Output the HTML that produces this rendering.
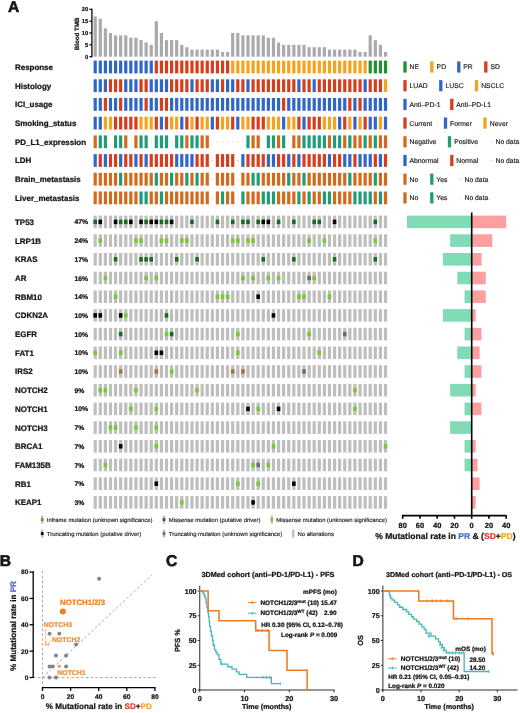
<!DOCTYPE html>
<html lang="en"><head><meta charset="utf-8"><title>Figure</title>
<style>html,body{margin:0;padding:0;background:#fff}body{width:520px;height:713px;overflow:hidden}svg{display:block}text{font-family:"Liberation Sans", Arial, Helvetica, sans-serif;fill:#141414;stroke:#141414;stroke-width:0.13px;text-rendering:geometricPrecision}.b{font-weight:bold;stroke-width:0.24px}.pl{stroke-width:0.6px}</style>
</head><body>
<svg width="520" height="713" viewBox="0 0 520 713">
<rect width="520" height="713" fill="#ffffff"/>
<text x="8.0" y="11.9" font-size="15.6" class="b pl">A</text>
<g fill="#aaaaad">
<rect x="93.6" y="16.41" width="3.2" height="40.29"/>
<rect x="98.69" y="18.78" width="3.2" height="37.92"/>
<rect x="103.79" y="28.26" width="3.2" height="28.44"/>
<rect x="108.88" y="33" width="3.2" height="23.7"/>
<rect x="113.97" y="35.37" width="3.2" height="21.33"/>
<rect x="119.06" y="35.37" width="3.2" height="21.33"/>
<rect x="124.16" y="35.37" width="3.2" height="21.33"/>
<rect x="129.25" y="37.74" width="3.2" height="18.96"/>
<rect x="134.34" y="37.74" width="3.2" height="18.96"/>
<rect x="139.44" y="40.11" width="3.2" height="16.59"/>
<rect x="144.53" y="42.48" width="3.2" height="14.22"/>
<rect x="149.62" y="44.85" width="3.2" height="11.85"/>
<rect x="154.72" y="21.15" width="3.2" height="35.55"/>
<rect x="159.81" y="33" width="3.2" height="23.7"/>
<rect x="164.9" y="40.11" width="3.2" height="16.59"/>
<rect x="170" y="40.11" width="3.2" height="16.59"/>
<rect x="175.09" y="40.11" width="3.2" height="16.59"/>
<rect x="180.18" y="44.85" width="3.2" height="11.85"/>
<rect x="185.27" y="47.22" width="3.2" height="9.48"/>
<rect x="190.37" y="49.59" width="3.2" height="7.11"/>
<rect x="195.46" y="49.59" width="3.2" height="7.11"/>
<rect x="200.55" y="49.59" width="3.2" height="7.11"/>
<rect x="205.65" y="49.59" width="3.2" height="7.11"/>
<rect x="210.74" y="49.59" width="3.2" height="7.11"/>
<rect x="215.83" y="49.59" width="3.2" height="7.11"/>
<rect x="220.93" y="51.96" width="3.2" height="4.74"/>
<rect x="226.02" y="51.96" width="3.2" height="4.74"/>
<rect x="231.11" y="33" width="3.2" height="23.7"/>
<rect x="236.2" y="33" width="3.2" height="23.7"/>
<rect x="241.3" y="35.37" width="3.2" height="21.33"/>
<rect x="246.39" y="35.37" width="3.2" height="21.33"/>
<rect x="251.48" y="35.37" width="3.2" height="21.33"/>
<rect x="256.58" y="35.37" width="3.2" height="21.33"/>
<rect x="261.67" y="35.37" width="3.2" height="21.33"/>
<rect x="266.76" y="37.74" width="3.2" height="18.96"/>
<rect x="271.86" y="37.74" width="3.2" height="18.96"/>
<rect x="276.95" y="42.48" width="3.2" height="14.22"/>
<rect x="282.04" y="44.85" width="3.2" height="11.85"/>
<rect x="287.13" y="44.85" width="3.2" height="11.85"/>
<rect x="292.23" y="44.85" width="3.2" height="11.85"/>
<rect x="297.32" y="44.85" width="3.2" height="11.85"/>
<rect x="302.41" y="44.85" width="3.2" height="11.85"/>
<rect x="307.51" y="47.22" width="3.2" height="9.48"/>
<rect x="312.6" y="47.22" width="3.2" height="9.48"/>
<rect x="317.69" y="47.22" width="3.2" height="9.48"/>
<rect x="322.78" y="47.22" width="3.2" height="9.48"/>
<rect x="327.88" y="49.59" width="3.2" height="7.11"/>
<rect x="332.97" y="49.59" width="3.2" height="7.11"/>
<rect x="338.06" y="49.59" width="3.2" height="7.11"/>
<rect x="343.16" y="49.59" width="3.2" height="7.11"/>
<rect x="348.25" y="49.59" width="3.2" height="7.11"/>
<rect x="353.34" y="49.59" width="3.2" height="7.11"/>
<rect x="358.44" y="51.96" width="3.2" height="4.74"/>
<rect x="363.53" y="51.96" width="3.2" height="4.74"/>
<rect x="368.62" y="35.37" width="3.2" height="21.33"/>
<rect x="373.72" y="40.11" width="3.2" height="16.59"/>
<rect x="378.81" y="44.85" width="3.2" height="11.85"/>
<rect x="383.9" y="51.96" width="3.2" height="4.74"/>
</g>
<g stroke="#111" stroke-width="1.35" fill="none">
<path d="M91.9 8.7V57.3"/>
<path d="M89.4 56.7 H91.9"/>
<path d="M89.4 44.85 H91.9"/>
<path d="M89.4 33 H91.9"/>
<path d="M89.4 21.15 H91.9"/>
<path d="M89.4 9.3 H91.9"/>
</g>
<text x="88.3" y="58.7" font-size="5.8" class="b" text-anchor="end">0</text>
<text x="88.3" y="46.85" font-size="5.8" class="b" text-anchor="end">5</text>
<text x="88.3" y="35" font-size="5.8" class="b" text-anchor="end">10</text>
<text x="88.3" y="23.15" font-size="5.8" class="b" text-anchor="end">15</text>
<text x="88.3" y="11.3" font-size="5.8" class="b" text-anchor="end">20</text>
<text transform="translate(79.1 33.8) rotate(-90)" font-size="6.2" class="b" text-anchor="middle">Blood TMB</text>
<text x="15" y="69.9" font-size="7.95" class="b">Response</text>
<g>
<rect x="93.6" y="60.6" width="3.2" height="12.8" fill="#2f66c7"/>
<rect x="98.69" y="60.6" width="3.2" height="12.8" fill="#2f66c7"/>
<rect x="103.79" y="60.6" width="3.2" height="12.8" fill="#2f66c7"/>
<rect x="108.88" y="60.6" width="3.2" height="12.8" fill="#2f66c7"/>
<rect x="113.97" y="60.6" width="3.2" height="12.8" fill="#2f66c7"/>
<rect x="119.06" y="60.6" width="3.2" height="12.8" fill="#2f66c7"/>
<rect x="124.16" y="60.6" width="3.2" height="12.8" fill="#2f66c7"/>
<rect x="129.25" y="60.6" width="3.2" height="12.8" fill="#2f66c7"/>
<rect x="134.34" y="60.6" width="3.2" height="12.8" fill="#2f66c7"/>
<rect x="139.44" y="60.6" width="3.2" height="12.8" fill="#2f66c7"/>
<rect x="144.53" y="60.6" width="3.2" height="12.8" fill="#2f66c7"/>
<rect x="149.62" y="60.6" width="3.2" height="12.8" fill="#2f66c7"/>
<rect x="154.72" y="60.6" width="3.2" height="12.8" fill="#d63d1c"/>
<rect x="159.81" y="60.6" width="3.2" height="12.8" fill="#d63d1c"/>
<rect x="164.9" y="60.6" width="3.2" height="12.8" fill="#d63d1c"/>
<rect x="170" y="60.6" width="3.2" height="12.8" fill="#d63d1c"/>
<rect x="175.09" y="60.6" width="3.2" height="12.8" fill="#d63d1c"/>
<rect x="180.18" y="60.6" width="3.2" height="12.8" fill="#d63d1c"/>
<rect x="185.27" y="60.6" width="3.2" height="12.8" fill="#d63d1c"/>
<rect x="190.37" y="60.6" width="3.2" height="12.8" fill="#d63d1c"/>
<rect x="195.46" y="60.6" width="3.2" height="12.8" fill="#d63d1c"/>
<rect x="200.55" y="60.6" width="3.2" height="12.8" fill="#d63d1c"/>
<rect x="205.65" y="60.6" width="3.2" height="12.8" fill="#d63d1c"/>
<rect x="210.74" y="60.6" width="3.2" height="12.8" fill="#d63d1c"/>
<rect x="215.83" y="60.6" width="3.2" height="12.8" fill="#d63d1c"/>
<rect x="220.93" y="60.6" width="3.2" height="12.8" fill="#d63d1c"/>
<rect x="226.02" y="60.6" width="3.2" height="12.8" fill="#d63d1c"/>
<rect x="231.11" y="60.6" width="3.2" height="12.8" fill="#f5a31f"/>
<rect x="236.2" y="60.6" width="3.2" height="12.8" fill="#f5a31f"/>
<rect x="241.3" y="60.6" width="3.2" height="12.8" fill="#f5a31f"/>
<rect x="246.39" y="60.6" width="3.2" height="12.8" fill="#f5a31f"/>
<rect x="251.48" y="60.6" width="3.2" height="12.8" fill="#f5a31f"/>
<rect x="256.58" y="60.6" width="3.2" height="12.8" fill="#f5a31f"/>
<rect x="261.67" y="60.6" width="3.2" height="12.8" fill="#f5a31f"/>
<rect x="266.76" y="60.6" width="3.2" height="12.8" fill="#f5a31f"/>
<rect x="271.86" y="60.6" width="3.2" height="12.8" fill="#f5a31f"/>
<rect x="276.95" y="60.6" width="3.2" height="12.8" fill="#f5a31f"/>
<rect x="282.04" y="60.6" width="3.2" height="12.8" fill="#f5a31f"/>
<rect x="287.13" y="60.6" width="3.2" height="12.8" fill="#f5a31f"/>
<rect x="292.23" y="60.6" width="3.2" height="12.8" fill="#f5a31f"/>
<rect x="297.32" y="60.6" width="3.2" height="12.8" fill="#f5a31f"/>
<rect x="302.41" y="60.6" width="3.2" height="12.8" fill="#f5a31f"/>
<rect x="307.51" y="60.6" width="3.2" height="12.8" fill="#f5a31f"/>
<rect x="312.6" y="60.6" width="3.2" height="12.8" fill="#f5a31f"/>
<rect x="317.69" y="60.6" width="3.2" height="12.8" fill="#f5a31f"/>
<rect x="322.78" y="60.6" width="3.2" height="12.8" fill="#f5a31f"/>
<rect x="327.88" y="60.6" width="3.2" height="12.8" fill="#f5a31f"/>
<rect x="332.97" y="60.6" width="3.2" height="12.8" fill="#f5a31f"/>
<rect x="338.06" y="60.6" width="3.2" height="12.8" fill="#f5a31f"/>
<rect x="343.16" y="60.6" width="3.2" height="12.8" fill="#f5a31f"/>
<rect x="348.25" y="60.6" width="3.2" height="12.8" fill="#f5a31f"/>
<rect x="353.34" y="60.6" width="3.2" height="12.8" fill="#f5a31f"/>
<rect x="358.44" y="60.6" width="3.2" height="12.8" fill="#f5a31f"/>
<rect x="363.53" y="60.6" width="3.2" height="12.8" fill="#f5a31f"/>
<rect x="368.62" y="60.6" width="3.2" height="12.8" fill="#1f9130"/>
<rect x="373.72" y="60.6" width="3.2" height="12.8" fill="#1f9130"/>
<rect x="378.81" y="60.6" width="3.2" height="12.8" fill="#1f9130"/>
<rect x="383.9" y="60.6" width="3.2" height="12.8" fill="#1f9130"/>
</g>
<text x="15" y="88.6" font-size="7.95" class="b">Histology</text>
<g>
<rect x="93.6" y="79.3" width="3.2" height="12.8" fill="#2f66c7"/>
<rect x="98.69" y="79.3" width="3.2" height="12.8" fill="#2f66c7"/>
<rect x="103.79" y="79.3" width="3.2" height="12.8" fill="#2f66c7"/>
<rect x="108.88" y="79.3" width="3.2" height="12.8" fill="#d63d1c"/>
<rect x="113.97" y="79.3" width="3.2" height="12.8" fill="#d63d1c"/>
<rect x="119.06" y="79.3" width="3.2" height="12.8" fill="#d63d1c"/>
<rect x="124.16" y="79.3" width="3.2" height="12.8" fill="#2f66c7"/>
<rect x="129.25" y="79.3" width="3.2" height="12.8" fill="#2f66c7"/>
<rect x="134.34" y="79.3" width="3.2" height="12.8" fill="#2f66c7"/>
<rect x="139.44" y="79.3" width="3.2" height="12.8" fill="#d63d1c"/>
<rect x="144.53" y="79.3" width="3.2" height="12.8" fill="#d63d1c"/>
<rect x="149.62" y="79.3" width="3.2" height="12.8" fill="#2f66c7"/>
<rect x="154.72" y="79.3" width="3.2" height="12.8" fill="#2f66c7"/>
<rect x="159.81" y="79.3" width="3.2" height="12.8" fill="#2f66c7"/>
<rect x="164.9" y="79.3" width="3.2" height="12.8" fill="#2f66c7"/>
<rect x="170" y="79.3" width="3.2" height="12.8" fill="#d63d1c"/>
<rect x="175.09" y="79.3" width="3.2" height="12.8" fill="#d63d1c"/>
<rect x="180.18" y="79.3" width="3.2" height="12.8" fill="#d63d1c"/>
<rect x="185.27" y="79.3" width="3.2" height="12.8" fill="#d63d1c"/>
<rect x="190.37" y="79.3" width="3.2" height="12.8" fill="#2f66c7"/>
<rect x="195.46" y="79.3" width="3.2" height="12.8" fill="#d63d1c"/>
<rect x="200.55" y="79.3" width="3.2" height="12.8" fill="#d63d1c"/>
<rect x="205.65" y="79.3" width="3.2" height="12.8" fill="#d63d1c"/>
<rect x="210.74" y="79.3" width="3.2" height="12.8" fill="#2f66c7"/>
<rect x="215.83" y="79.3" width="3.2" height="12.8" fill="#2f66c7"/>
<rect x="220.93" y="79.3" width="3.2" height="12.8" fill="#d63d1c"/>
<rect x="226.02" y="79.3" width="3.2" height="12.8" fill="#2f66c7"/>
<rect x="231.11" y="79.3" width="3.2" height="12.8" fill="#2f66c7"/>
<rect x="236.2" y="79.3" width="3.2" height="12.8" fill="#d63d1c"/>
<rect x="241.3" y="79.3" width="3.2" height="12.8" fill="#d63d1c"/>
<rect x="246.39" y="79.3" width="3.2" height="12.8" fill="#2f66c7"/>
<rect x="251.48" y="79.3" width="3.2" height="12.8" fill="#d63d1c"/>
<rect x="256.58" y="79.3" width="3.2" height="12.8" fill="#d63d1c"/>
<rect x="261.67" y="79.3" width="3.2" height="12.8" fill="#d63d1c"/>
<rect x="266.76" y="79.3" width="3.2" height="12.8" fill="#d63d1c"/>
<rect x="271.86" y="79.3" width="3.2" height="12.8" fill="#d63d1c"/>
<rect x="276.95" y="79.3" width="3.2" height="12.8" fill="#d63d1c"/>
<rect x="282.04" y="79.3" width="3.2" height="12.8" fill="#d63d1c"/>
<rect x="287.13" y="79.3" width="3.2" height="12.8" fill="#d63d1c"/>
<rect x="292.23" y="79.3" width="3.2" height="12.8" fill="#d63d1c"/>
<rect x="297.32" y="79.3" width="3.2" height="12.8" fill="#2f66c7"/>
<rect x="302.41" y="79.3" width="3.2" height="12.8" fill="#d63d1c"/>
<rect x="307.51" y="79.3" width="3.2" height="12.8" fill="#d63d1c"/>
<rect x="312.6" y="79.3" width="3.2" height="12.8" fill="#2f66c7"/>
<rect x="317.69" y="79.3" width="3.2" height="12.8" fill="#d63d1c"/>
<rect x="322.78" y="79.3" width="3.2" height="12.8" fill="#d63d1c"/>
<rect x="327.88" y="79.3" width="3.2" height="12.8" fill="#d63d1c"/>
<rect x="332.97" y="79.3" width="3.2" height="12.8" fill="#d63d1c"/>
<rect x="338.06" y="79.3" width="3.2" height="12.8" fill="#d63d1c"/>
<rect x="343.16" y="79.3" width="3.2" height="12.8" fill="#d63d1c"/>
<rect x="348.25" y="79.3" width="3.2" height="12.8" fill="#d63d1c"/>
<rect x="353.34" y="79.3" width="3.2" height="12.8" fill="#d63d1c"/>
<rect x="358.44" y="79.3" width="3.2" height="12.8" fill="#d63d1c"/>
<rect x="363.53" y="79.3" width="3.2" height="12.8" fill="#2f66c7"/>
<rect x="368.62" y="79.3" width="3.2" height="12.8" fill="#d63d1c"/>
<rect x="373.72" y="79.3" width="3.2" height="12.8" fill="#d63d1c"/>
<rect x="378.81" y="79.3" width="3.2" height="12.8" fill="#d63d1c"/>
<rect x="383.9" y="79.3" width="3.2" height="12.8" fill="#f5a31f"/>
</g>
<text x="15" y="107.3" font-size="7.95" class="b">ICI_usage</text>
<g>
<rect x="93.6" y="98" width="3.2" height="12.8" fill="#2f66c7"/>
<rect x="98.69" y="98" width="3.2" height="12.8" fill="#2f66c7"/>
<rect x="103.79" y="98" width="3.2" height="12.8" fill="#d63d1c"/>
<rect x="108.88" y="98" width="3.2" height="12.8" fill="#2f66c7"/>
<rect x="113.97" y="98" width="3.2" height="12.8" fill="#2f66c7"/>
<rect x="119.06" y="98" width="3.2" height="12.8" fill="#d63d1c"/>
<rect x="124.16" y="98" width="3.2" height="12.8" fill="#2f66c7"/>
<rect x="129.25" y="98" width="3.2" height="12.8" fill="#2f66c7"/>
<rect x="134.34" y="98" width="3.2" height="12.8" fill="#2f66c7"/>
<rect x="139.44" y="98" width="3.2" height="12.8" fill="#2f66c7"/>
<rect x="144.53" y="98" width="3.2" height="12.8" fill="#d63d1c"/>
<rect x="149.62" y="98" width="3.2" height="12.8" fill="#2f66c7"/>
<rect x="154.72" y="98" width="3.2" height="12.8" fill="#2f66c7"/>
<rect x="159.81" y="98" width="3.2" height="12.8" fill="#d63d1c"/>
<rect x="164.9" y="98" width="3.2" height="12.8" fill="#d63d1c"/>
<rect x="170" y="98" width="3.2" height="12.8" fill="#2f66c7"/>
<rect x="175.09" y="98" width="3.2" height="12.8" fill="#2f66c7"/>
<rect x="180.18" y="98" width="3.2" height="12.8" fill="#2f66c7"/>
<rect x="185.27" y="98" width="3.2" height="12.8" fill="#2f66c7"/>
<rect x="190.37" y="98" width="3.2" height="12.8" fill="#2f66c7"/>
<rect x="195.46" y="98" width="3.2" height="12.8" fill="#2f66c7"/>
<rect x="200.55" y="98" width="3.2" height="12.8" fill="#2f66c7"/>
<rect x="205.65" y="98" width="3.2" height="12.8" fill="#2f66c7"/>
<rect x="210.74" y="98" width="3.2" height="12.8" fill="#2f66c7"/>
<rect x="215.83" y="98" width="3.2" height="12.8" fill="#2f66c7"/>
<rect x="220.93" y="98" width="3.2" height="12.8" fill="#2f66c7"/>
<rect x="226.02" y="98" width="3.2" height="12.8" fill="#2f66c7"/>
<rect x="231.11" y="98" width="3.2" height="12.8" fill="#2f66c7"/>
<rect x="236.2" y="98" width="3.2" height="12.8" fill="#2f66c7"/>
<rect x="241.3" y="98" width="3.2" height="12.8" fill="#2f66c7"/>
<rect x="246.39" y="98" width="3.2" height="12.8" fill="#2f66c7"/>
<rect x="251.48" y="98" width="3.2" height="12.8" fill="#2f66c7"/>
<rect x="256.58" y="98" width="3.2" height="12.8" fill="#2f66c7"/>
<rect x="261.67" y="98" width="3.2" height="12.8" fill="#2f66c7"/>
<rect x="266.76" y="98" width="3.2" height="12.8" fill="#2f66c7"/>
<rect x="271.86" y="98" width="3.2" height="12.8" fill="#2f66c7"/>
<rect x="276.95" y="98" width="3.2" height="12.8" fill="#2f66c7"/>
<rect x="282.04" y="98" width="3.2" height="12.8" fill="#d63d1c"/>
<rect x="287.13" y="98" width="3.2" height="12.8" fill="#2f66c7"/>
<rect x="292.23" y="98" width="3.2" height="12.8" fill="#2f66c7"/>
<rect x="297.32" y="98" width="3.2" height="12.8" fill="#2f66c7"/>
<rect x="302.41" y="98" width="3.2" height="12.8" fill="#2f66c7"/>
<rect x="307.51" y="98" width="3.2" height="12.8" fill="#2f66c7"/>
<rect x="312.6" y="98" width="3.2" height="12.8" fill="#2f66c7"/>
<rect x="317.69" y="98" width="3.2" height="12.8" fill="#2f66c7"/>
<rect x="322.78" y="98" width="3.2" height="12.8" fill="#2f66c7"/>
<rect x="327.88" y="98" width="3.2" height="12.8" fill="#2f66c7"/>
<rect x="332.97" y="98" width="3.2" height="12.8" fill="#2f66c7"/>
<rect x="338.06" y="98" width="3.2" height="12.8" fill="#2f66c7"/>
<rect x="343.16" y="98" width="3.2" height="12.8" fill="#2f66c7"/>
<rect x="348.25" y="98" width="3.2" height="12.8" fill="#d63d1c"/>
<rect x="353.34" y="98" width="3.2" height="12.8" fill="#2f66c7"/>
<rect x="358.44" y="98" width="3.2" height="12.8" fill="#d63d1c"/>
<rect x="363.53" y="98" width="3.2" height="12.8" fill="#2f66c7"/>
<rect x="368.62" y="98" width="3.2" height="12.8" fill="#2f66c7"/>
<rect x="373.72" y="98" width="3.2" height="12.8" fill="#2f66c7"/>
<rect x="378.81" y="98" width="3.2" height="12.8" fill="#2f66c7"/>
<rect x="383.9" y="98" width="3.2" height="12.8" fill="#2f66c7"/>
</g>
<text x="15" y="126" font-size="7.95" class="b">Smoking_status</text>
<g>
<rect x="93.6" y="116.7" width="3.2" height="12.8" fill="#2f66c7"/>
<rect x="98.69" y="116.7" width="3.2" height="12.8" fill="#2f66c7"/>
<rect x="103.79" y="116.7" width="3.2" height="12.8" fill="#f5a31f"/>
<rect x="108.88" y="116.7" width="3.2" height="12.8" fill="#f5a31f"/>
<rect x="113.97" y="116.7" width="3.2" height="12.8" fill="#d63d1c"/>
<rect x="119.06" y="116.7" width="3.2" height="12.8" fill="#d63d1c"/>
<rect x="124.16" y="116.7" width="3.2" height="12.8" fill="#d63d1c"/>
<rect x="129.25" y="116.7" width="3.2" height="12.8" fill="#d63d1c"/>
<rect x="134.34" y="116.7" width="3.2" height="12.8" fill="#d63d1c"/>
<rect x="139.44" y="116.7" width="3.2" height="12.8" fill="#f5a31f"/>
<rect x="144.53" y="116.7" width="3.2" height="12.8" fill="#f5a31f"/>
<rect x="149.62" y="116.7" width="3.2" height="12.8" fill="#f5a31f"/>
<rect x="154.72" y="116.7" width="3.2" height="12.8" fill="#d63d1c"/>
<rect x="159.81" y="116.7" width="3.2" height="12.8" fill="#2f66c7"/>
<rect x="164.9" y="116.7" width="3.2" height="12.8" fill="#d63d1c"/>
<rect x="170" y="116.7" width="3.2" height="12.8" fill="#f5a31f"/>
<rect x="175.09" y="116.7" width="3.2" height="12.8" fill="#f5a31f"/>
<rect x="180.18" y="116.7" width="3.2" height="12.8" fill="#2f66c7"/>
<rect x="185.27" y="116.7" width="3.2" height="12.8" fill="#d63d1c"/>
<rect x="190.37" y="116.7" width="3.2" height="12.8" fill="#f5a31f"/>
<rect x="195.46" y="116.7" width="3.2" height="12.8" fill="#d63d1c"/>
<rect x="200.55" y="116.7" width="3.2" height="12.8" fill="#f5a31f"/>
<rect x="205.65" y="116.7" width="3.2" height="12.8" fill="#f5a31f"/>
<rect x="210.74" y="116.7" width="3.2" height="12.8" fill="#2f66c7"/>
<rect x="215.83" y="116.7" width="3.2" height="12.8" fill="#d63d1c"/>
<rect x="220.93" y="116.7" width="3.2" height="12.8" fill="#f5a31f"/>
<rect x="226.02" y="116.7" width="3.2" height="12.8" fill="#f5a31f"/>
<rect x="231.11" y="116.7" width="3.2" height="12.8" fill="#d63d1c"/>
<rect x="236.2" y="116.7" width="3.2" height="12.8" fill="#2f66c7"/>
<rect x="241.3" y="116.7" width="3.2" height="12.8" fill="#f5a31f"/>
<rect x="246.39" y="116.7" width="3.2" height="12.8" fill="#f5a31f"/>
<rect x="251.48" y="116.7" width="3.2" height="12.8" fill="#d63d1c"/>
<rect x="256.58" y="116.7" width="3.2" height="12.8" fill="#d63d1c"/>
<rect x="261.67" y="116.7" width="3.2" height="12.8" fill="#d63d1c"/>
<rect x="266.76" y="116.7" width="3.2" height="12.8" fill="#f5a31f"/>
<rect x="271.86" y="116.7" width="3.2" height="12.8" fill="#f5a31f"/>
<rect x="276.95" y="116.7" width="3.2" height="12.8" fill="#f5a31f"/>
<rect x="282.04" y="116.7" width="3.2" height="12.8" fill="#2f66c7"/>
<rect x="287.13" y="116.7" width="3.2" height="12.8" fill="#f5a31f"/>
<rect x="292.23" y="116.7" width="3.2" height="12.8" fill="#f5a31f"/>
<rect x="297.32" y="116.7" width="3.2" height="12.8" fill="#d63d1c"/>
<rect x="302.41" y="116.7" width="3.2" height="12.8" fill="#2f66c7"/>
<rect x="307.51" y="116.7" width="3.2" height="12.8" fill="#d63d1c"/>
<rect x="312.6" y="116.7" width="3.2" height="12.8" fill="#d63d1c"/>
<rect x="317.69" y="116.7" width="3.2" height="12.8" fill="#d63d1c"/>
<rect x="322.78" y="116.7" width="3.2" height="12.8" fill="#f5a31f"/>
<rect x="327.88" y="116.7" width="3.2" height="12.8" fill="#f5a31f"/>
<rect x="332.97" y="116.7" width="3.2" height="12.8" fill="#f5a31f"/>
<rect x="338.06" y="116.7" width="3.2" height="12.8" fill="#2f66c7"/>
<rect x="343.16" y="116.7" width="3.2" height="12.8" fill="#d63d1c"/>
<rect x="348.25" y="116.7" width="3.2" height="12.8" fill="#f5a31f"/>
<rect x="353.34" y="116.7" width="3.2" height="12.8" fill="#2f66c7"/>
<rect x="358.44" y="116.7" width="3.2" height="12.8" fill="#f5a31f"/>
<rect x="363.53" y="116.7" width="3.2" height="12.8" fill="#d63d1c"/>
<rect x="368.62" y="116.7" width="3.2" height="12.8" fill="#2f66c7"/>
<rect x="373.72" y="116.7" width="3.2" height="12.8" fill="#2f66c7"/>
<rect x="378.81" y="116.7" width="3.2" height="12.8" fill="#f5a31f"/>
<rect x="383.9" y="116.7" width="3.2" height="12.8" fill="#2f66c7"/>
</g>
<text x="15" y="144.7" font-size="7.95" class="b">PD_L1_expression</text>
<g>
<rect x="93.6" y="135.4" width="3.2" height="12.8" fill="#d4691c"/>
<rect x="98.69" y="135.4" width="3.2" height="12.8" fill="#1f9c78"/>
<rect x="103.79" y="135.4" width="3.2" height="12.8" fill="#1f9c78"/>
<rect x="109.38" y="141.35" width="2.2" height="0.9" fill="#d8d8d8"/>
<rect x="113.97" y="135.4" width="3.2" height="12.8" fill="#1f9c78"/>
<rect x="119.06" y="135.4" width="3.2" height="12.8" fill="#1f9c78"/>
<rect x="124.16" y="135.4" width="3.2" height="12.8" fill="#d4691c"/>
<rect x="129.75" y="141.35" width="2.2" height="0.9" fill="#d8d8d8"/>
<rect x="134.34" y="135.4" width="3.2" height="12.8" fill="#d4691c"/>
<rect x="139.44" y="135.4" width="3.2" height="12.8" fill="#1f9c78"/>
<rect x="144.53" y="135.4" width="3.2" height="12.8" fill="#1f9c78"/>
<rect x="150.12" y="141.35" width="2.2" height="0.9" fill="#d8d8d8"/>
<rect x="154.72" y="135.4" width="3.2" height="12.8" fill="#1f9c78"/>
<rect x="159.81" y="135.4" width="3.2" height="12.8" fill="#1f9c78"/>
<rect x="164.9" y="135.4" width="3.2" height="12.8" fill="#1f9c78"/>
<rect x="170.5" y="141.35" width="2.2" height="0.9" fill="#d8d8d8"/>
<rect x="175.09" y="135.4" width="3.2" height="12.8" fill="#1f9c78"/>
<rect x="180.18" y="135.4" width="3.2" height="12.8" fill="#1f9c78"/>
<rect x="185.27" y="135.4" width="3.2" height="12.8" fill="#d4691c"/>
<rect x="190.37" y="135.4" width="3.2" height="12.8" fill="#1f9c78"/>
<rect x="195.46" y="135.4" width="3.2" height="12.8" fill="#1f9c78"/>
<rect x="200.55" y="135.4" width="3.2" height="12.8" fill="#d4691c"/>
<rect x="205.65" y="135.4" width="3.2" height="12.8" fill="#d4691c"/>
<rect x="211.24" y="141.35" width="2.2" height="0.9" fill="#d8d8d8"/>
<rect x="216.33" y="141.35" width="2.2" height="0.9" fill="#d8d8d8"/>
<rect x="221.43" y="141.35" width="2.2" height="0.9" fill="#d8d8d8"/>
<rect x="226.52" y="141.35" width="2.2" height="0.9" fill="#d8d8d8"/>
<rect x="231.61" y="141.35" width="2.2" height="0.9" fill="#d8d8d8"/>
<rect x="236.7" y="141.35" width="2.2" height="0.9" fill="#d8d8d8"/>
<rect x="241.8" y="141.35" width="2.2" height="0.9" fill="#d8d8d8"/>
<rect x="246.39" y="135.4" width="3.2" height="12.8" fill="#1f9c78"/>
<rect x="251.48" y="135.4" width="3.2" height="12.8" fill="#d4691c"/>
<rect x="256.58" y="135.4" width="3.2" height="12.8" fill="#d4691c"/>
<rect x="262.17" y="141.35" width="2.2" height="0.9" fill="#d8d8d8"/>
<rect x="266.76" y="135.4" width="3.2" height="12.8" fill="#1f9c78"/>
<rect x="271.86" y="135.4" width="3.2" height="12.8" fill="#1f9c78"/>
<rect x="276.95" y="135.4" width="3.2" height="12.8" fill="#d4691c"/>
<rect x="282.04" y="135.4" width="3.2" height="12.8" fill="#1f9c78"/>
<rect x="287.63" y="141.35" width="2.2" height="0.9" fill="#d8d8d8"/>
<rect x="292.23" y="135.4" width="3.2" height="12.8" fill="#d4691c"/>
<rect x="297.32" y="135.4" width="3.2" height="12.8" fill="#d4691c"/>
<rect x="302.41" y="135.4" width="3.2" height="12.8" fill="#1f9c78"/>
<rect x="307.51" y="135.4" width="3.2" height="12.8" fill="#1f9c78"/>
<rect x="312.6" y="135.4" width="3.2" height="12.8" fill="#1f9c78"/>
<rect x="317.69" y="135.4" width="3.2" height="12.8" fill="#1f9c78"/>
<rect x="322.78" y="135.4" width="3.2" height="12.8" fill="#1f9c78"/>
<rect x="327.88" y="135.4" width="3.2" height="12.8" fill="#d4691c"/>
<rect x="332.97" y="135.4" width="3.2" height="12.8" fill="#1f9c78"/>
<rect x="338.06" y="135.4" width="3.2" height="12.8" fill="#1f9c78"/>
<rect x="343.16" y="135.4" width="3.2" height="12.8" fill="#d4691c"/>
<rect x="348.25" y="135.4" width="3.2" height="12.8" fill="#1f9c78"/>
<rect x="353.34" y="135.4" width="3.2" height="12.8" fill="#d4691c"/>
<rect x="358.44" y="135.4" width="3.2" height="12.8" fill="#d4691c"/>
<rect x="363.53" y="135.4" width="3.2" height="12.8" fill="#1f9c78"/>
<rect x="368.62" y="135.4" width="3.2" height="12.8" fill="#d4691c"/>
<rect x="373.72" y="135.4" width="3.2" height="12.8" fill="#1f9c78"/>
<rect x="378.81" y="135.4" width="3.2" height="12.8" fill="#d4691c"/>
<rect x="383.9" y="135.4" width="3.2" height="12.8" fill="#d4691c"/>
</g>
<text x="15" y="163.4" font-size="7.95" class="b">LDH</text>
<g>
<rect x="93.6" y="154.1" width="3.2" height="12.8" fill="#2f66c7"/>
<rect x="98.69" y="154.1" width="3.2" height="12.8" fill="#d63d1c"/>
<rect x="103.79" y="154.1" width="3.2" height="12.8" fill="#2f66c7"/>
<rect x="108.88" y="154.1" width="3.2" height="12.8" fill="#d63d1c"/>
<rect x="113.97" y="154.1" width="3.2" height="12.8" fill="#d63d1c"/>
<rect x="119.06" y="154.1" width="3.2" height="12.8" fill="#2f66c7"/>
<rect x="124.16" y="154.1" width="3.2" height="12.8" fill="#d63d1c"/>
<rect x="129.25" y="154.1" width="3.2" height="12.8" fill="#d63d1c"/>
<rect x="134.34" y="154.1" width="3.2" height="12.8" fill="#2f66c7"/>
<rect x="139.44" y="154.1" width="3.2" height="12.8" fill="#d63d1c"/>
<rect x="144.53" y="154.1" width="3.2" height="12.8" fill="#2f66c7"/>
<rect x="149.62" y="154.1" width="3.2" height="12.8" fill="#d63d1c"/>
<rect x="154.72" y="154.1" width="3.2" height="12.8" fill="#d63d1c"/>
<rect x="159.81" y="154.1" width="3.2" height="12.8" fill="#d63d1c"/>
<rect x="164.9" y="154.1" width="3.2" height="12.8" fill="#d63d1c"/>
<rect x="170" y="154.1" width="3.2" height="12.8" fill="#d63d1c"/>
<rect x="175.09" y="154.1" width="3.2" height="12.8" fill="#2f66c7"/>
<rect x="180.18" y="154.1" width="3.2" height="12.8" fill="#2f66c7"/>
<rect x="185.27" y="154.1" width="3.2" height="12.8" fill="#2f66c7"/>
<rect x="190.37" y="154.1" width="3.2" height="12.8" fill="#2f66c7"/>
<rect x="195.46" y="154.1" width="3.2" height="12.8" fill="#d63d1c"/>
<rect x="200.55" y="154.1" width="3.2" height="12.8" fill="#d63d1c"/>
<rect x="205.65" y="154.1" width="3.2" height="12.8" fill="#d63d1c"/>
<rect x="211.24" y="160.05" width="2.2" height="0.9" fill="#d8d8d8"/>
<rect x="215.83" y="154.1" width="3.2" height="12.8" fill="#d63d1c"/>
<rect x="220.93" y="154.1" width="3.2" height="12.8" fill="#d63d1c"/>
<rect x="226.02" y="154.1" width="3.2" height="12.8" fill="#d63d1c"/>
<rect x="231.11" y="154.1" width="3.2" height="12.8" fill="#d63d1c"/>
<rect x="236.7" y="160.05" width="2.2" height="0.9" fill="#d8d8d8"/>
<rect x="241.3" y="154.1" width="3.2" height="12.8" fill="#2f66c7"/>
<rect x="246.39" y="154.1" width="3.2" height="12.8" fill="#d63d1c"/>
<rect x="251.48" y="154.1" width="3.2" height="12.8" fill="#d63d1c"/>
<rect x="256.58" y="154.1" width="3.2" height="12.8" fill="#d63d1c"/>
<rect x="261.67" y="154.1" width="3.2" height="12.8" fill="#d63d1c"/>
<rect x="266.76" y="154.1" width="3.2" height="12.8" fill="#2f66c7"/>
<rect x="271.86" y="154.1" width="3.2" height="12.8" fill="#2f66c7"/>
<rect x="276.95" y="154.1" width="3.2" height="12.8" fill="#d63d1c"/>
<rect x="282.04" y="154.1" width="3.2" height="12.8" fill="#d63d1c"/>
<rect x="287.13" y="154.1" width="3.2" height="12.8" fill="#2f66c7"/>
<rect x="292.23" y="154.1" width="3.2" height="12.8" fill="#d63d1c"/>
<rect x="297.32" y="154.1" width="3.2" height="12.8" fill="#2f66c7"/>
<rect x="302.41" y="154.1" width="3.2" height="12.8" fill="#d63d1c"/>
<rect x="307.51" y="154.1" width="3.2" height="12.8" fill="#d63d1c"/>
<rect x="312.6" y="154.1" width="3.2" height="12.8" fill="#d63d1c"/>
<rect x="317.69" y="154.1" width="3.2" height="12.8" fill="#d63d1c"/>
<rect x="322.78" y="154.1" width="3.2" height="12.8" fill="#d63d1c"/>
<rect x="327.88" y="154.1" width="3.2" height="12.8" fill="#2f66c7"/>
<rect x="332.97" y="154.1" width="3.2" height="12.8" fill="#d63d1c"/>
<rect x="338.06" y="154.1" width="3.2" height="12.8" fill="#d63d1c"/>
<rect x="343.16" y="154.1" width="3.2" height="12.8" fill="#2f66c7"/>
<rect x="348.25" y="154.1" width="3.2" height="12.8" fill="#2f66c7"/>
<rect x="353.34" y="154.1" width="3.2" height="12.8" fill="#d63d1c"/>
<rect x="358.44" y="154.1" width="3.2" height="12.8" fill="#2f66c7"/>
<rect x="363.53" y="154.1" width="3.2" height="12.8" fill="#2f66c7"/>
<rect x="368.62" y="154.1" width="3.2" height="12.8" fill="#2f66c7"/>
<rect x="373.72" y="154.1" width="3.2" height="12.8" fill="#d63d1c"/>
<rect x="378.81" y="154.1" width="3.2" height="12.8" fill="#2f66c7"/>
<rect x="383.9" y="154.1" width="3.2" height="12.8" fill="#d63d1c"/>
</g>
<text x="15" y="182.1" font-size="7.95" class="b">Brain_metastasis</text>
<g>
<rect x="93.6" y="172.8" width="3.2" height="12.8" fill="#d4691c"/>
<rect x="98.69" y="172.8" width="3.2" height="12.8" fill="#d4691c"/>
<rect x="103.79" y="172.8" width="3.2" height="12.8" fill="#d4691c"/>
<rect x="108.88" y="172.8" width="3.2" height="12.8" fill="#d4691c"/>
<rect x="113.97" y="172.8" width="3.2" height="12.8" fill="#d4691c"/>
<rect x="119.06" y="172.8" width="3.2" height="12.8" fill="#1f9c78"/>
<rect x="124.16" y="172.8" width="3.2" height="12.8" fill="#d4691c"/>
<rect x="129.25" y="172.8" width="3.2" height="12.8" fill="#d4691c"/>
<rect x="134.34" y="172.8" width="3.2" height="12.8" fill="#d4691c"/>
<rect x="139.44" y="172.8" width="3.2" height="12.8" fill="#d4691c"/>
<rect x="144.53" y="172.8" width="3.2" height="12.8" fill="#d4691c"/>
<rect x="149.62" y="172.8" width="3.2" height="12.8" fill="#d4691c"/>
<rect x="154.72" y="172.8" width="3.2" height="12.8" fill="#1f9c78"/>
<rect x="159.81" y="172.8" width="3.2" height="12.8" fill="#d4691c"/>
<rect x="164.9" y="172.8" width="3.2" height="12.8" fill="#d4691c"/>
<rect x="170" y="172.8" width="3.2" height="12.8" fill="#1f9c78"/>
<rect x="175.09" y="172.8" width="3.2" height="12.8" fill="#d4691c"/>
<rect x="180.18" y="172.8" width="3.2" height="12.8" fill="#d4691c"/>
<rect x="185.27" y="172.8" width="3.2" height="12.8" fill="#1f9c78"/>
<rect x="190.37" y="172.8" width="3.2" height="12.8" fill="#d4691c"/>
<rect x="195.46" y="172.8" width="3.2" height="12.8" fill="#1f9c78"/>
<rect x="200.55" y="172.8" width="3.2" height="12.8" fill="#d4691c"/>
<rect x="205.65" y="172.8" width="3.2" height="12.8" fill="#d4691c"/>
<rect x="211.24" y="178.75" width="2.2" height="0.9" fill="#d8d8d8"/>
<rect x="215.83" y="172.8" width="3.2" height="12.8" fill="#d4691c"/>
<rect x="220.93" y="172.8" width="3.2" height="12.8" fill="#d4691c"/>
<rect x="226.02" y="172.8" width="3.2" height="12.8" fill="#d4691c"/>
<rect x="231.11" y="172.8" width="3.2" height="12.8" fill="#d4691c"/>
<rect x="236.7" y="178.75" width="2.2" height="0.9" fill="#d8d8d8"/>
<rect x="241.3" y="172.8" width="3.2" height="12.8" fill="#d4691c"/>
<rect x="246.39" y="172.8" width="3.2" height="12.8" fill="#d4691c"/>
<rect x="251.48" y="172.8" width="3.2" height="12.8" fill="#1f9c78"/>
<rect x="256.58" y="172.8" width="3.2" height="12.8" fill="#1f9c78"/>
<rect x="261.67" y="172.8" width="3.2" height="12.8" fill="#d4691c"/>
<rect x="266.76" y="172.8" width="3.2" height="12.8" fill="#d4691c"/>
<rect x="271.86" y="172.8" width="3.2" height="12.8" fill="#d4691c"/>
<rect x="276.95" y="172.8" width="3.2" height="12.8" fill="#d4691c"/>
<rect x="282.04" y="172.8" width="3.2" height="12.8" fill="#d4691c"/>
<rect x="287.13" y="172.8" width="3.2" height="12.8" fill="#1f9c78"/>
<rect x="292.23" y="172.8" width="3.2" height="12.8" fill="#d4691c"/>
<rect x="297.32" y="172.8" width="3.2" height="12.8" fill="#d4691c"/>
<rect x="302.41" y="172.8" width="3.2" height="12.8" fill="#1f9c78"/>
<rect x="307.51" y="172.8" width="3.2" height="12.8" fill="#d4691c"/>
<rect x="312.6" y="172.8" width="3.2" height="12.8" fill="#d4691c"/>
<rect x="317.69" y="172.8" width="3.2" height="12.8" fill="#d4691c"/>
<rect x="322.78" y="172.8" width="3.2" height="12.8" fill="#d4691c"/>
<rect x="327.88" y="172.8" width="3.2" height="12.8" fill="#d4691c"/>
<rect x="332.97" y="172.8" width="3.2" height="12.8" fill="#d4691c"/>
<rect x="338.06" y="172.8" width="3.2" height="12.8" fill="#d4691c"/>
<rect x="343.16" y="172.8" width="3.2" height="12.8" fill="#d4691c"/>
<rect x="348.25" y="172.8" width="3.2" height="12.8" fill="#1f9c78"/>
<rect x="353.34" y="172.8" width="3.2" height="12.8" fill="#d4691c"/>
<rect x="358.44" y="172.8" width="3.2" height="12.8" fill="#d4691c"/>
<rect x="363.53" y="172.8" width="3.2" height="12.8" fill="#d4691c"/>
<rect x="368.62" y="172.8" width="3.2" height="12.8" fill="#d4691c"/>
<rect x="373.72" y="172.8" width="3.2" height="12.8" fill="#1f9c78"/>
<rect x="378.81" y="172.8" width="3.2" height="12.8" fill="#d4691c"/>
<rect x="383.9" y="172.8" width="3.2" height="12.8" fill="#d4691c"/>
</g>
<text x="15" y="200.8" font-size="7.95" class="b">Liver_metastasis</text>
<g>
<rect x="93.6" y="191.5" width="3.2" height="12.8" fill="#d4691c"/>
<rect x="98.69" y="191.5" width="3.2" height="12.8" fill="#d4691c"/>
<rect x="103.79" y="191.5" width="3.2" height="12.8" fill="#d4691c"/>
<rect x="108.88" y="191.5" width="3.2" height="12.8" fill="#d4691c"/>
<rect x="113.97" y="191.5" width="3.2" height="12.8" fill="#d4691c"/>
<rect x="119.06" y="191.5" width="3.2" height="12.8" fill="#d4691c"/>
<rect x="124.16" y="191.5" width="3.2" height="12.8" fill="#d4691c"/>
<rect x="129.25" y="191.5" width="3.2" height="12.8" fill="#d4691c"/>
<rect x="134.34" y="191.5" width="3.2" height="12.8" fill="#d4691c"/>
<rect x="139.44" y="191.5" width="3.2" height="12.8" fill="#1f9c78"/>
<rect x="144.53" y="191.5" width="3.2" height="12.8" fill="#1f9c78"/>
<rect x="149.62" y="191.5" width="3.2" height="12.8" fill="#d4691c"/>
<rect x="154.72" y="191.5" width="3.2" height="12.8" fill="#d4691c"/>
<rect x="159.81" y="191.5" width="3.2" height="12.8" fill="#1f9c78"/>
<rect x="164.9" y="191.5" width="3.2" height="12.8" fill="#d4691c"/>
<rect x="170" y="191.5" width="3.2" height="12.8" fill="#d4691c"/>
<rect x="175.09" y="191.5" width="3.2" height="12.8" fill="#d4691c"/>
<rect x="180.18" y="191.5" width="3.2" height="12.8" fill="#d4691c"/>
<rect x="185.27" y="191.5" width="3.2" height="12.8" fill="#d4691c"/>
<rect x="190.37" y="191.5" width="3.2" height="12.8" fill="#d4691c"/>
<rect x="195.46" y="191.5" width="3.2" height="12.8" fill="#d4691c"/>
<rect x="200.55" y="191.5" width="3.2" height="12.8" fill="#d4691c"/>
<rect x="205.65" y="191.5" width="3.2" height="12.8" fill="#d4691c"/>
<rect x="211.24" y="197.45" width="2.2" height="0.9" fill="#d8d8d8"/>
<rect x="215.83" y="191.5" width="3.2" height="12.8" fill="#d4691c"/>
<rect x="220.93" y="191.5" width="3.2" height="12.8" fill="#1f9c78"/>
<rect x="226.02" y="191.5" width="3.2" height="12.8" fill="#d4691c"/>
<rect x="231.11" y="191.5" width="3.2" height="12.8" fill="#d4691c"/>
<rect x="236.7" y="197.45" width="2.2" height="0.9" fill="#d8d8d8"/>
<rect x="241.3" y="191.5" width="3.2" height="12.8" fill="#1f9c78"/>
<rect x="246.39" y="191.5" width="3.2" height="12.8" fill="#d4691c"/>
<rect x="251.48" y="191.5" width="3.2" height="12.8" fill="#d4691c"/>
<rect x="256.58" y="191.5" width="3.2" height="12.8" fill="#d4691c"/>
<rect x="261.67" y="191.5" width="3.2" height="12.8" fill="#1f9c78"/>
<rect x="266.76" y="191.5" width="3.2" height="12.8" fill="#1f9c78"/>
<rect x="271.86" y="191.5" width="3.2" height="12.8" fill="#1f9c78"/>
<rect x="276.95" y="191.5" width="3.2" height="12.8" fill="#d4691c"/>
<rect x="282.04" y="191.5" width="3.2" height="12.8" fill="#d4691c"/>
<rect x="287.13" y="191.5" width="3.2" height="12.8" fill="#d4691c"/>
<rect x="292.23" y="191.5" width="3.2" height="12.8" fill="#d4691c"/>
<rect x="297.32" y="191.5" width="3.2" height="12.8" fill="#1f9c78"/>
<rect x="302.41" y="191.5" width="3.2" height="12.8" fill="#d4691c"/>
<rect x="307.51" y="191.5" width="3.2" height="12.8" fill="#1f9c78"/>
<rect x="312.6" y="191.5" width="3.2" height="12.8" fill="#d4691c"/>
<rect x="317.69" y="191.5" width="3.2" height="12.8" fill="#d4691c"/>
<rect x="322.78" y="191.5" width="3.2" height="12.8" fill="#1f9c78"/>
<rect x="327.88" y="191.5" width="3.2" height="12.8" fill="#1f9c78"/>
<rect x="332.97" y="191.5" width="3.2" height="12.8" fill="#d4691c"/>
<rect x="338.06" y="191.5" width="3.2" height="12.8" fill="#d4691c"/>
<rect x="343.16" y="191.5" width="3.2" height="12.8" fill="#d4691c"/>
<rect x="348.25" y="191.5" width="3.2" height="12.8" fill="#d4691c"/>
<rect x="353.34" y="191.5" width="3.2" height="12.8" fill="#1f9c78"/>
<rect x="358.44" y="191.5" width="3.2" height="12.8" fill="#1f9c78"/>
<rect x="363.53" y="191.5" width="3.2" height="12.8" fill="#1f9c78"/>
<rect x="368.62" y="191.5" width="3.2" height="12.8" fill="#1f9c78"/>
<rect x="373.72" y="191.5" width="3.2" height="12.8" fill="#d4691c"/>
<rect x="378.81" y="191.5" width="3.2" height="12.8" fill="#1f9c78"/>
<rect x="383.9" y="191.5" width="3.2" height="12.8" fill="#d4691c"/>
</g>
<rect x="403.35" y="61.4" width="3.3" height="11.2" fill="#1f9130"/>
<text x="409.5" y="69.4" font-size="6.8">NE</text>
<rect x="430.15" y="61.4" width="3.3" height="11.2" fill="#f5a31f"/>
<text x="436.6" y="69.4" font-size="6.8">PD</text>
<rect x="457.15" y="61.4" width="3.3" height="11.2" fill="#2f66c7"/>
<text x="463.3" y="69.4" font-size="6.8">PR</text>
<rect x="484.15" y="61.4" width="3.3" height="11.2" fill="#d63d1c"/>
<text x="490.5" y="69.4" font-size="6.8">SD</text>
<rect x="403.35" y="80.1" width="3.3" height="11.2" fill="#d63d1c"/>
<text x="409.5" y="88.1" font-size="6.8">LUAD</text>
<rect x="439.15" y="80.1" width="3.3" height="11.2" fill="#2f66c7"/>
<text x="445.5" y="88.1" font-size="6.8">LUSC</text>
<rect x="474.85" y="80.1" width="3.3" height="11.2" fill="#f5a31f"/>
<text x="481.2" y="88.1" font-size="6.8">NSCLC</text>
<rect x="403.35" y="98.8" width="3.3" height="11.2" fill="#2f66c7"/>
<text x="409.5" y="106.8" font-size="6.8">Anti–PD-1</text>
<rect x="450.15" y="98.8" width="3.3" height="11.2" fill="#d63d1c"/>
<text x="456.3" y="106.8" font-size="6.8">Anti–PD-L1</text>
<rect x="403.35" y="117.5" width="3.3" height="11.2" fill="#d63d1c"/>
<text x="409.5" y="125.5" font-size="6.8">Current</text>
<rect x="443.85" y="117.5" width="3.3" height="11.2" fill="#2f66c7"/>
<text x="450" y="125.5" font-size="6.8">Former</text>
<rect x="483.35" y="117.5" width="3.3" height="11.2" fill="#f5a31f"/>
<text x="489.8" y="125.5" font-size="6.8">Never</text>
<rect x="403.35" y="136.2" width="3.3" height="11.2" fill="#d4691c"/>
<text x="409.5" y="144.2" font-size="6.8">Negative</text>
<rect x="447.85" y="136.2" width="3.3" height="11.2" fill="#1f9c78"/>
<text x="454.2" y="144.2" font-size="6.8">Positive</text>
<rect x="490.2" y="141.35" width="2.4" height="0.9" fill="#d8d8d8"/>
<text x="495.5" y="144.2" font-size="6.8">No data</text>
<rect x="403.35" y="154.9" width="3.3" height="11.2" fill="#2f66c7"/>
<text x="409.5" y="162.9" font-size="6.8">Abnormal</text>
<rect x="450.15" y="154.9" width="3.3" height="11.2" fill="#d63d1c"/>
<text x="456.3" y="162.9" font-size="6.8">Normal</text>
<rect x="490.2" y="160.05" width="2.4" height="0.9" fill="#d8d8d8"/>
<text x="495.5" y="162.9" font-size="6.8">No data</text>
<rect x="403.35" y="173.6" width="3.3" height="11.2" fill="#d4691c"/>
<text x="409.5" y="181.6" font-size="6.8">No</text>
<rect x="430.15" y="173.6" width="3.3" height="11.2" fill="#1f9c78"/>
<text x="436.3" y="181.6" font-size="6.8">Yes</text>
<rect x="459.5" y="178.75" width="2.4" height="0.9" fill="#d8d8d8"/>
<text x="464.5" y="181.6" font-size="6.8">No data</text>
<rect x="403.35" y="192.3" width="3.3" height="11.2" fill="#d4691c"/>
<text x="409.5" y="200.3" font-size="6.8">No</text>
<rect x="430.15" y="192.3" width="3.3" height="11.2" fill="#1f9c78"/>
<text x="436.3" y="200.3" font-size="6.8">Yes</text>
<rect x="459.5" y="197.45" width="2.4" height="0.9" fill="#d8d8d8"/>
<text x="464.5" y="200.3" font-size="6.8">No data</text>
<text x="15" y="224.8" font-size="7.95" class="b">TP53</text>
<text x="74.4" y="224.4" font-size="6.8" class="b">47%</text>
<g fill="#bebebe">
<rect x="93.6" y="215.6" width="3.2" height="12.6"/>
<rect x="98.69" y="215.6" width="3.2" height="12.6"/>
<rect x="103.79" y="215.6" width="3.2" height="12.6"/>
<rect x="108.88" y="215.6" width="3.2" height="12.6"/>
<rect x="113.97" y="215.6" width="3.2" height="12.6"/>
<rect x="119.06" y="215.6" width="3.2" height="12.6"/>
<rect x="124.16" y="215.6" width="3.2" height="12.6"/>
<rect x="129.25" y="215.6" width="3.2" height="12.6"/>
<rect x="134.34" y="215.6" width="3.2" height="12.6"/>
<rect x="139.44" y="215.6" width="3.2" height="12.6"/>
<rect x="144.53" y="215.6" width="3.2" height="12.6"/>
<rect x="149.62" y="215.6" width="3.2" height="12.6"/>
<rect x="154.72" y="215.6" width="3.2" height="12.6"/>
<rect x="159.81" y="215.6" width="3.2" height="12.6"/>
<rect x="164.9" y="215.6" width="3.2" height="12.6"/>
<rect x="170" y="215.6" width="3.2" height="12.6"/>
<rect x="175.09" y="215.6" width="3.2" height="12.6"/>
<rect x="180.18" y="215.6" width="3.2" height="12.6"/>
<rect x="185.27" y="215.6" width="3.2" height="12.6"/>
<rect x="190.37" y="215.6" width="3.2" height="12.6"/>
<rect x="195.46" y="215.6" width="3.2" height="12.6"/>
<rect x="200.55" y="215.6" width="3.2" height="12.6"/>
<rect x="205.65" y="215.6" width="3.2" height="12.6"/>
<rect x="210.74" y="215.6" width="3.2" height="12.6"/>
<rect x="215.83" y="215.6" width="3.2" height="12.6"/>
<rect x="220.93" y="215.6" width="3.2" height="12.6"/>
<rect x="226.02" y="215.6" width="3.2" height="12.6"/>
<rect x="231.11" y="215.6" width="3.2" height="12.6"/>
<rect x="236.2" y="215.6" width="3.2" height="12.6"/>
<rect x="241.3" y="215.6" width="3.2" height="12.6"/>
<rect x="246.39" y="215.6" width="3.2" height="12.6"/>
<rect x="251.48" y="215.6" width="3.2" height="12.6"/>
<rect x="256.58" y="215.6" width="3.2" height="12.6"/>
<rect x="261.67" y="215.6" width="3.2" height="12.6"/>
<rect x="266.76" y="215.6" width="3.2" height="12.6"/>
<rect x="271.86" y="215.6" width="3.2" height="12.6"/>
<rect x="276.95" y="215.6" width="3.2" height="12.6"/>
<rect x="282.04" y="215.6" width="3.2" height="12.6"/>
<rect x="287.13" y="215.6" width="3.2" height="12.6"/>
<rect x="292.23" y="215.6" width="3.2" height="12.6"/>
<rect x="297.32" y="215.6" width="3.2" height="12.6"/>
<rect x="302.41" y="215.6" width="3.2" height="12.6"/>
<rect x="307.51" y="215.6" width="3.2" height="12.6"/>
<rect x="312.6" y="215.6" width="3.2" height="12.6"/>
<rect x="317.69" y="215.6" width="3.2" height="12.6"/>
<rect x="322.78" y="215.6" width="3.2" height="12.6"/>
<rect x="327.88" y="215.6" width="3.2" height="12.6"/>
<rect x="332.97" y="215.6" width="3.2" height="12.6"/>
<rect x="338.06" y="215.6" width="3.2" height="12.6"/>
<rect x="343.16" y="215.6" width="3.2" height="12.6"/>
<rect x="348.25" y="215.6" width="3.2" height="12.6"/>
<rect x="353.34" y="215.6" width="3.2" height="12.6"/>
<rect x="358.44" y="215.6" width="3.2" height="12.6"/>
<rect x="363.53" y="215.6" width="3.2" height="12.6"/>
<rect x="368.62" y="215.6" width="3.2" height="12.6"/>
<rect x="373.72" y="215.6" width="3.2" height="12.6"/>
<rect x="378.81" y="215.6" width="3.2" height="12.6"/>
<rect x="383.9" y="215.6" width="3.2" height="12.6"/>
</g>
<rect x="93.4" y="219.65" width="3.6" height="4.5" fill="#1a6b22"/>
<rect x="98.49" y="219.65" width="3.6" height="4.5" fill="#000000"/>
<rect x="113.77" y="219.65" width="3.6" height="4.5" fill="#000000"/>
<rect x="118.86" y="219.65" width="3.6" height="4.5" fill="#1a6b22"/>
<rect x="123.96" y="219.65" width="3.6" height="4.5" fill="#1a6b22"/>
<rect x="129.05" y="219.65" width="3.6" height="4.5" fill="#000000"/>
<rect x="139.24" y="219.65" width="3.6" height="4.5" fill="#000000"/>
<rect x="144.33" y="219.65" width="3.6" height="4.5" fill="#1a6b22"/>
<rect x="149.42" y="219.65" width="3.6" height="4.5" fill="#000000"/>
<rect x="154.52" y="219.65" width="3.6" height="4.5" fill="#000000"/>
<rect x="159.61" y="219.65" width="3.6" height="4.5" fill="#1a6b22"/>
<rect x="164.7" y="219.65" width="3.6" height="4.5" fill="#1a6b22"/>
<rect x="169.8" y="219.65" width="3.6" height="4.5" fill="#000000"/>
<rect x="190.17" y="219.65" width="3.6" height="4.5" fill="#1a6b22"/>
<rect x="215.63" y="219.65" width="3.6" height="4.5" fill="#1a6b22"/>
<rect x="230.91" y="219.65" width="3.6" height="4.5" fill="#1a6b22"/>
<rect x="241.1" y="219.65" width="3.6" height="4.5" fill="#1a6b22"/>
<rect x="246.19" y="219.65" width="3.6" height="4.5" fill="#1a6b22"/>
<rect x="256.38" y="219.65" width="3.6" height="4.5" fill="#1a6b22"/>
<rect x="261.47" y="219.65" width="3.6" height="4.5" fill="#000000"/>
<rect x="266.56" y="219.65" width="3.6" height="4.5" fill="#000000"/>
<rect x="276.75" y="219.65" width="3.6" height="4.5" fill="#1a6b22"/>
<rect x="292.03" y="219.65" width="3.6" height="4.5" fill="#1a6b22"/>
<rect x="312.4" y="219.65" width="3.6" height="4.5" fill="#1a6b22"/>
<rect x="317.49" y="219.65" width="3.6" height="4.5" fill="#1a6b22"/>
<rect x="332.77" y="219.65" width="3.6" height="4.5" fill="#000000"/>
<rect x="373.52" y="219.65" width="3.6" height="4.5" fill="#1a6b22"/>
<rect x="407.01" y="215.6" width="64.69" height="12.6" fill="#80dbb6"/>
<rect x="471.7" y="215.6" width="34.5" height="12.6" fill="#fe9f9f"/>
<text x="15" y="243.5" font-size="7.95" class="b">LRP1B</text>
<text x="74.4" y="243.1" font-size="6.8" class="b">24%</text>
<g fill="#bebebe">
<rect x="93.6" y="234.3" width="3.2" height="12.6"/>
<rect x="98.69" y="234.3" width="3.2" height="12.6"/>
<rect x="103.79" y="234.3" width="3.2" height="12.6"/>
<rect x="108.88" y="234.3" width="3.2" height="12.6"/>
<rect x="113.97" y="234.3" width="3.2" height="12.6"/>
<rect x="119.06" y="234.3" width="3.2" height="12.6"/>
<rect x="124.16" y="234.3" width="3.2" height="12.6"/>
<rect x="129.25" y="234.3" width="3.2" height="12.6"/>
<rect x="134.34" y="234.3" width="3.2" height="12.6"/>
<rect x="139.44" y="234.3" width="3.2" height="12.6"/>
<rect x="144.53" y="234.3" width="3.2" height="12.6"/>
<rect x="149.62" y="234.3" width="3.2" height="12.6"/>
<rect x="154.72" y="234.3" width="3.2" height="12.6"/>
<rect x="159.81" y="234.3" width="3.2" height="12.6"/>
<rect x="164.9" y="234.3" width="3.2" height="12.6"/>
<rect x="170" y="234.3" width="3.2" height="12.6"/>
<rect x="175.09" y="234.3" width="3.2" height="12.6"/>
<rect x="180.18" y="234.3" width="3.2" height="12.6"/>
<rect x="185.27" y="234.3" width="3.2" height="12.6"/>
<rect x="190.37" y="234.3" width="3.2" height="12.6"/>
<rect x="195.46" y="234.3" width="3.2" height="12.6"/>
<rect x="200.55" y="234.3" width="3.2" height="12.6"/>
<rect x="205.65" y="234.3" width="3.2" height="12.6"/>
<rect x="210.74" y="234.3" width="3.2" height="12.6"/>
<rect x="215.83" y="234.3" width="3.2" height="12.6"/>
<rect x="220.93" y="234.3" width="3.2" height="12.6"/>
<rect x="226.02" y="234.3" width="3.2" height="12.6"/>
<rect x="231.11" y="234.3" width="3.2" height="12.6"/>
<rect x="236.2" y="234.3" width="3.2" height="12.6"/>
<rect x="241.3" y="234.3" width="3.2" height="12.6"/>
<rect x="246.39" y="234.3" width="3.2" height="12.6"/>
<rect x="251.48" y="234.3" width="3.2" height="12.6"/>
<rect x="256.58" y="234.3" width="3.2" height="12.6"/>
<rect x="261.67" y="234.3" width="3.2" height="12.6"/>
<rect x="266.76" y="234.3" width="3.2" height="12.6"/>
<rect x="271.86" y="234.3" width="3.2" height="12.6"/>
<rect x="276.95" y="234.3" width="3.2" height="12.6"/>
<rect x="282.04" y="234.3" width="3.2" height="12.6"/>
<rect x="287.13" y="234.3" width="3.2" height="12.6"/>
<rect x="292.23" y="234.3" width="3.2" height="12.6"/>
<rect x="297.32" y="234.3" width="3.2" height="12.6"/>
<rect x="302.41" y="234.3" width="3.2" height="12.6"/>
<rect x="307.51" y="234.3" width="3.2" height="12.6"/>
<rect x="312.6" y="234.3" width="3.2" height="12.6"/>
<rect x="317.69" y="234.3" width="3.2" height="12.6"/>
<rect x="322.78" y="234.3" width="3.2" height="12.6"/>
<rect x="327.88" y="234.3" width="3.2" height="12.6"/>
<rect x="332.97" y="234.3" width="3.2" height="12.6"/>
<rect x="338.06" y="234.3" width="3.2" height="12.6"/>
<rect x="343.16" y="234.3" width="3.2" height="12.6"/>
<rect x="348.25" y="234.3" width="3.2" height="12.6"/>
<rect x="353.34" y="234.3" width="3.2" height="12.6"/>
<rect x="358.44" y="234.3" width="3.2" height="12.6"/>
<rect x="363.53" y="234.3" width="3.2" height="12.6"/>
<rect x="368.62" y="234.3" width="3.2" height="12.6"/>
<rect x="373.72" y="234.3" width="3.2" height="12.6"/>
<rect x="378.81" y="234.3" width="3.2" height="12.6"/>
<rect x="383.9" y="234.3" width="3.2" height="12.6"/>
</g>
<rect x="98.49" y="238.35" width="3.6" height="4.5" fill="#78c932"/>
<rect x="134.14" y="238.35" width="3.6" height="4.5" fill="#78c932"/>
<rect x="139.24" y="238.35" width="3.6" height="4.5" fill="#78c932"/>
<rect x="159.61" y="238.35" width="3.6" height="4.5" fill="#78c932"/>
<rect x="164.7" y="238.35" width="3.6" height="4.5" fill="#78c932"/>
<rect x="179.98" y="238.35" width="3.6" height="4.5" fill="#78c932"/>
<rect x="185.07" y="238.35" width="3.6" height="4.5" fill="#78c932"/>
<rect x="230.91" y="238.35" width="3.6" height="4.5" fill="#78c932"/>
<rect x="236" y="238.35" width="3.6" height="4.5" fill="#78c932"/>
<rect x="246.19" y="238.35" width="3.6" height="4.5" fill="#78c932"/>
<rect x="251.28" y="238.35" width="3.6" height="4.5" fill="#78c932"/>
<rect x="307.31" y="238.35" width="3.6" height="4.5" fill="#78c932"/>
<rect x="322.58" y="238.35" width="3.6" height="4.5" fill="#78c932"/>
<rect x="373.52" y="238.35" width="3.6" height="4.5" fill="#78c932"/>
<rect x="450.14" y="234.3" width="21.56" height="12.6" fill="#80dbb6"/>
<rect x="471.7" y="234.3" width="20.61" height="12.6" fill="#fe9f9f"/>
<text x="15" y="262.2" font-size="7.95" class="b">KRAS</text>
<text x="74.4" y="261.8" font-size="6.8" class="b">17%</text>
<g fill="#bebebe">
<rect x="93.6" y="253" width="3.2" height="12.6"/>
<rect x="98.69" y="253" width="3.2" height="12.6"/>
<rect x="103.79" y="253" width="3.2" height="12.6"/>
<rect x="108.88" y="253" width="3.2" height="12.6"/>
<rect x="113.97" y="253" width="3.2" height="12.6"/>
<rect x="119.06" y="253" width="3.2" height="12.6"/>
<rect x="124.16" y="253" width="3.2" height="12.6"/>
<rect x="129.25" y="253" width="3.2" height="12.6"/>
<rect x="134.34" y="253" width="3.2" height="12.6"/>
<rect x="139.44" y="253" width="3.2" height="12.6"/>
<rect x="144.53" y="253" width="3.2" height="12.6"/>
<rect x="149.62" y="253" width="3.2" height="12.6"/>
<rect x="154.72" y="253" width="3.2" height="12.6"/>
<rect x="159.81" y="253" width="3.2" height="12.6"/>
<rect x="164.9" y="253" width="3.2" height="12.6"/>
<rect x="170" y="253" width="3.2" height="12.6"/>
<rect x="175.09" y="253" width="3.2" height="12.6"/>
<rect x="180.18" y="253" width="3.2" height="12.6"/>
<rect x="185.27" y="253" width="3.2" height="12.6"/>
<rect x="190.37" y="253" width="3.2" height="12.6"/>
<rect x="195.46" y="253" width="3.2" height="12.6"/>
<rect x="200.55" y="253" width="3.2" height="12.6"/>
<rect x="205.65" y="253" width="3.2" height="12.6"/>
<rect x="210.74" y="253" width="3.2" height="12.6"/>
<rect x="215.83" y="253" width="3.2" height="12.6"/>
<rect x="220.93" y="253" width="3.2" height="12.6"/>
<rect x="226.02" y="253" width="3.2" height="12.6"/>
<rect x="231.11" y="253" width="3.2" height="12.6"/>
<rect x="236.2" y="253" width="3.2" height="12.6"/>
<rect x="241.3" y="253" width="3.2" height="12.6"/>
<rect x="246.39" y="253" width="3.2" height="12.6"/>
<rect x="251.48" y="253" width="3.2" height="12.6"/>
<rect x="256.58" y="253" width="3.2" height="12.6"/>
<rect x="261.67" y="253" width="3.2" height="12.6"/>
<rect x="266.76" y="253" width="3.2" height="12.6"/>
<rect x="271.86" y="253" width="3.2" height="12.6"/>
<rect x="276.95" y="253" width="3.2" height="12.6"/>
<rect x="282.04" y="253" width="3.2" height="12.6"/>
<rect x="287.13" y="253" width="3.2" height="12.6"/>
<rect x="292.23" y="253" width="3.2" height="12.6"/>
<rect x="297.32" y="253" width="3.2" height="12.6"/>
<rect x="302.41" y="253" width="3.2" height="12.6"/>
<rect x="307.51" y="253" width="3.2" height="12.6"/>
<rect x="312.6" y="253" width="3.2" height="12.6"/>
<rect x="317.69" y="253" width="3.2" height="12.6"/>
<rect x="322.78" y="253" width="3.2" height="12.6"/>
<rect x="327.88" y="253" width="3.2" height="12.6"/>
<rect x="332.97" y="253" width="3.2" height="12.6"/>
<rect x="338.06" y="253" width="3.2" height="12.6"/>
<rect x="343.16" y="253" width="3.2" height="12.6"/>
<rect x="348.25" y="253" width="3.2" height="12.6"/>
<rect x="353.34" y="253" width="3.2" height="12.6"/>
<rect x="358.44" y="253" width="3.2" height="12.6"/>
<rect x="363.53" y="253" width="3.2" height="12.6"/>
<rect x="368.62" y="253" width="3.2" height="12.6"/>
<rect x="373.72" y="253" width="3.2" height="12.6"/>
<rect x="378.81" y="253" width="3.2" height="12.6"/>
<rect x="383.9" y="253" width="3.2" height="12.6"/>
</g>
<rect x="113.77" y="257.05" width="3.6" height="4.5" fill="#1a6b22"/>
<rect x="139.24" y="257.05" width="3.6" height="4.5" fill="#1a6b22"/>
<rect x="144.33" y="257.05" width="3.6" height="4.5" fill="#1a6b22"/>
<rect x="149.42" y="257.05" width="3.6" height="4.5" fill="#1a6b22"/>
<rect x="174.89" y="257.05" width="3.6" height="4.5" fill="#1a6b22"/>
<rect x="195.26" y="257.05" width="3.6" height="4.5" fill="#1a6b22"/>
<rect x="261.47" y="257.05" width="3.6" height="4.5" fill="#1a6b22"/>
<rect x="292.03" y="257.05" width="3.6" height="4.5" fill="#1a6b22"/>
<rect x="332.77" y="257.05" width="3.6" height="4.5" fill="#1a6b22"/>
<rect x="373.52" y="257.05" width="3.6" height="4.5" fill="#1a6b22"/>
<rect x="442.98" y="253" width="28.72" height="12.6" fill="#80dbb6"/>
<rect x="471.7" y="253" width="9.92" height="12.6" fill="#fe9f9f"/>
<text x="15" y="280.9" font-size="7.95" class="b">AR</text>
<text x="74.4" y="280.5" font-size="6.8" class="b">16%</text>
<g fill="#bebebe">
<rect x="93.6" y="271.7" width="3.2" height="12.6"/>
<rect x="98.69" y="271.7" width="3.2" height="12.6"/>
<rect x="103.79" y="271.7" width="3.2" height="12.6"/>
<rect x="108.88" y="271.7" width="3.2" height="12.6"/>
<rect x="113.97" y="271.7" width="3.2" height="12.6"/>
<rect x="119.06" y="271.7" width="3.2" height="12.6"/>
<rect x="124.16" y="271.7" width="3.2" height="12.6"/>
<rect x="129.25" y="271.7" width="3.2" height="12.6"/>
<rect x="134.34" y="271.7" width="3.2" height="12.6"/>
<rect x="139.44" y="271.7" width="3.2" height="12.6"/>
<rect x="144.53" y="271.7" width="3.2" height="12.6"/>
<rect x="149.62" y="271.7" width="3.2" height="12.6"/>
<rect x="154.72" y="271.7" width="3.2" height="12.6"/>
<rect x="159.81" y="271.7" width="3.2" height="12.6"/>
<rect x="164.9" y="271.7" width="3.2" height="12.6"/>
<rect x="170" y="271.7" width="3.2" height="12.6"/>
<rect x="175.09" y="271.7" width="3.2" height="12.6"/>
<rect x="180.18" y="271.7" width="3.2" height="12.6"/>
<rect x="185.27" y="271.7" width="3.2" height="12.6"/>
<rect x="190.37" y="271.7" width="3.2" height="12.6"/>
<rect x="195.46" y="271.7" width="3.2" height="12.6"/>
<rect x="200.55" y="271.7" width="3.2" height="12.6"/>
<rect x="205.65" y="271.7" width="3.2" height="12.6"/>
<rect x="210.74" y="271.7" width="3.2" height="12.6"/>
<rect x="215.83" y="271.7" width="3.2" height="12.6"/>
<rect x="220.93" y="271.7" width="3.2" height="12.6"/>
<rect x="226.02" y="271.7" width="3.2" height="12.6"/>
<rect x="231.11" y="271.7" width="3.2" height="12.6"/>
<rect x="236.2" y="271.7" width="3.2" height="12.6"/>
<rect x="241.3" y="271.7" width="3.2" height="12.6"/>
<rect x="246.39" y="271.7" width="3.2" height="12.6"/>
<rect x="251.48" y="271.7" width="3.2" height="12.6"/>
<rect x="256.58" y="271.7" width="3.2" height="12.6"/>
<rect x="261.67" y="271.7" width="3.2" height="12.6"/>
<rect x="266.76" y="271.7" width="3.2" height="12.6"/>
<rect x="271.86" y="271.7" width="3.2" height="12.6"/>
<rect x="276.95" y="271.7" width="3.2" height="12.6"/>
<rect x="282.04" y="271.7" width="3.2" height="12.6"/>
<rect x="287.13" y="271.7" width="3.2" height="12.6"/>
<rect x="292.23" y="271.7" width="3.2" height="12.6"/>
<rect x="297.32" y="271.7" width="3.2" height="12.6"/>
<rect x="302.41" y="271.7" width="3.2" height="12.6"/>
<rect x="307.51" y="271.7" width="3.2" height="12.6"/>
<rect x="312.6" y="271.7" width="3.2" height="12.6"/>
<rect x="317.69" y="271.7" width="3.2" height="12.6"/>
<rect x="322.78" y="271.7" width="3.2" height="12.6"/>
<rect x="327.88" y="271.7" width="3.2" height="12.6"/>
<rect x="332.97" y="271.7" width="3.2" height="12.6"/>
<rect x="338.06" y="271.7" width="3.2" height="12.6"/>
<rect x="343.16" y="271.7" width="3.2" height="12.6"/>
<rect x="348.25" y="271.7" width="3.2" height="12.6"/>
<rect x="353.34" y="271.7" width="3.2" height="12.6"/>
<rect x="358.44" y="271.7" width="3.2" height="12.6"/>
<rect x="363.53" y="271.7" width="3.2" height="12.6"/>
<rect x="368.62" y="271.7" width="3.2" height="12.6"/>
<rect x="373.72" y="271.7" width="3.2" height="12.6"/>
<rect x="378.81" y="271.7" width="3.2" height="12.6"/>
<rect x="383.9" y="271.7" width="3.2" height="12.6"/>
</g>
<rect x="103.59" y="275.75" width="3.6" height="4.5" fill="#78c932"/>
<rect x="144.33" y="275.75" width="3.6" height="4.5" fill="#78c932"/>
<rect x="154.52" y="275.75" width="3.6" height="4.5" fill="#78c932"/>
<rect x="241.1" y="275.75" width="3.6" height="4.5" fill="#78c932"/>
<rect x="251.28" y="275.75" width="3.6" height="4.5" fill="#78c932"/>
<rect x="266.56" y="275.75" width="3.6" height="4.5" fill="#78c932"/>
<rect x="276.75" y="275.75" width="3.6" height="4.5" fill="#78c932"/>
<rect x="307.31" y="275.75" width="3.6" height="4.5" fill="#6c6c78"/>
<rect x="312.4" y="275.75" width="3.6" height="4.5" fill="#78c932"/>
<rect x="457.3" y="271.7" width="14.4" height="12.6" fill="#80dbb6"/>
<rect x="471.7" y="271.7" width="14.06" height="12.6" fill="#fe9f9f"/>
<text x="15" y="299.6" font-size="7.95" class="b">RBM10</text>
<text x="74.4" y="299.2" font-size="6.8" class="b">14%</text>
<g fill="#bebebe">
<rect x="93.6" y="290.4" width="3.2" height="12.6"/>
<rect x="98.69" y="290.4" width="3.2" height="12.6"/>
<rect x="103.79" y="290.4" width="3.2" height="12.6"/>
<rect x="108.88" y="290.4" width="3.2" height="12.6"/>
<rect x="113.97" y="290.4" width="3.2" height="12.6"/>
<rect x="119.06" y="290.4" width="3.2" height="12.6"/>
<rect x="124.16" y="290.4" width="3.2" height="12.6"/>
<rect x="129.25" y="290.4" width="3.2" height="12.6"/>
<rect x="134.34" y="290.4" width="3.2" height="12.6"/>
<rect x="139.44" y="290.4" width="3.2" height="12.6"/>
<rect x="144.53" y="290.4" width="3.2" height="12.6"/>
<rect x="149.62" y="290.4" width="3.2" height="12.6"/>
<rect x="154.72" y="290.4" width="3.2" height="12.6"/>
<rect x="159.81" y="290.4" width="3.2" height="12.6"/>
<rect x="164.9" y="290.4" width="3.2" height="12.6"/>
<rect x="170" y="290.4" width="3.2" height="12.6"/>
<rect x="175.09" y="290.4" width="3.2" height="12.6"/>
<rect x="180.18" y="290.4" width="3.2" height="12.6"/>
<rect x="185.27" y="290.4" width="3.2" height="12.6"/>
<rect x="190.37" y="290.4" width="3.2" height="12.6"/>
<rect x="195.46" y="290.4" width="3.2" height="12.6"/>
<rect x="200.55" y="290.4" width="3.2" height="12.6"/>
<rect x="205.65" y="290.4" width="3.2" height="12.6"/>
<rect x="210.74" y="290.4" width="3.2" height="12.6"/>
<rect x="215.83" y="290.4" width="3.2" height="12.6"/>
<rect x="220.93" y="290.4" width="3.2" height="12.6"/>
<rect x="226.02" y="290.4" width="3.2" height="12.6"/>
<rect x="231.11" y="290.4" width="3.2" height="12.6"/>
<rect x="236.2" y="290.4" width="3.2" height="12.6"/>
<rect x="241.3" y="290.4" width="3.2" height="12.6"/>
<rect x="246.39" y="290.4" width="3.2" height="12.6"/>
<rect x="251.48" y="290.4" width="3.2" height="12.6"/>
<rect x="256.58" y="290.4" width="3.2" height="12.6"/>
<rect x="261.67" y="290.4" width="3.2" height="12.6"/>
<rect x="266.76" y="290.4" width="3.2" height="12.6"/>
<rect x="271.86" y="290.4" width="3.2" height="12.6"/>
<rect x="276.95" y="290.4" width="3.2" height="12.6"/>
<rect x="282.04" y="290.4" width="3.2" height="12.6"/>
<rect x="287.13" y="290.4" width="3.2" height="12.6"/>
<rect x="292.23" y="290.4" width="3.2" height="12.6"/>
<rect x="297.32" y="290.4" width="3.2" height="12.6"/>
<rect x="302.41" y="290.4" width="3.2" height="12.6"/>
<rect x="307.51" y="290.4" width="3.2" height="12.6"/>
<rect x="312.6" y="290.4" width="3.2" height="12.6"/>
<rect x="317.69" y="290.4" width="3.2" height="12.6"/>
<rect x="322.78" y="290.4" width="3.2" height="12.6"/>
<rect x="327.88" y="290.4" width="3.2" height="12.6"/>
<rect x="332.97" y="290.4" width="3.2" height="12.6"/>
<rect x="338.06" y="290.4" width="3.2" height="12.6"/>
<rect x="343.16" y="290.4" width="3.2" height="12.6"/>
<rect x="348.25" y="290.4" width="3.2" height="12.6"/>
<rect x="353.34" y="290.4" width="3.2" height="12.6"/>
<rect x="358.44" y="290.4" width="3.2" height="12.6"/>
<rect x="363.53" y="290.4" width="3.2" height="12.6"/>
<rect x="368.62" y="290.4" width="3.2" height="12.6"/>
<rect x="373.72" y="290.4" width="3.2" height="12.6"/>
<rect x="378.81" y="290.4" width="3.2" height="12.6"/>
<rect x="383.9" y="290.4" width="3.2" height="12.6"/>
</g>
<rect x="113.77" y="294.45" width="3.6" height="4.5" fill="#78c932"/>
<rect x="215.63" y="294.45" width="3.6" height="4.5" fill="#78c932"/>
<rect x="220.73" y="294.45" width="3.6" height="4.5" fill="#78c932"/>
<rect x="225.82" y="294.45" width="3.6" height="4.5" fill="#78c932"/>
<rect x="256.38" y="294.45" width="3.6" height="4.5" fill="#000000"/>
<rect x="297.12" y="294.45" width="3.6" height="4.5" fill="#78c932"/>
<rect x="302.21" y="294.45" width="3.6" height="4.5" fill="#78c932"/>
<rect x="327.68" y="294.45" width="3.6" height="4.5" fill="#78c932"/>
<rect x="464.54" y="290.4" width="7.16" height="12.6" fill="#80dbb6"/>
<rect x="471.7" y="290.4" width="14.06" height="12.6" fill="#fe9f9f"/>
<text x="15" y="318.3" font-size="7.95" class="b">CDKN2A</text>
<text x="74.4" y="317.9" font-size="6.8" class="b">10%</text>
<g fill="#bebebe">
<rect x="93.6" y="309.1" width="3.2" height="12.6"/>
<rect x="98.69" y="309.1" width="3.2" height="12.6"/>
<rect x="103.79" y="309.1" width="3.2" height="12.6"/>
<rect x="108.88" y="309.1" width="3.2" height="12.6"/>
<rect x="113.97" y="309.1" width="3.2" height="12.6"/>
<rect x="119.06" y="309.1" width="3.2" height="12.6"/>
<rect x="124.16" y="309.1" width="3.2" height="12.6"/>
<rect x="129.25" y="309.1" width="3.2" height="12.6"/>
<rect x="134.34" y="309.1" width="3.2" height="12.6"/>
<rect x="139.44" y="309.1" width="3.2" height="12.6"/>
<rect x="144.53" y="309.1" width="3.2" height="12.6"/>
<rect x="149.62" y="309.1" width="3.2" height="12.6"/>
<rect x="154.72" y="309.1" width="3.2" height="12.6"/>
<rect x="159.81" y="309.1" width="3.2" height="12.6"/>
<rect x="164.9" y="309.1" width="3.2" height="12.6"/>
<rect x="170" y="309.1" width="3.2" height="12.6"/>
<rect x="175.09" y="309.1" width="3.2" height="12.6"/>
<rect x="180.18" y="309.1" width="3.2" height="12.6"/>
<rect x="185.27" y="309.1" width="3.2" height="12.6"/>
<rect x="190.37" y="309.1" width="3.2" height="12.6"/>
<rect x="195.46" y="309.1" width="3.2" height="12.6"/>
<rect x="200.55" y="309.1" width="3.2" height="12.6"/>
<rect x="205.65" y="309.1" width="3.2" height="12.6"/>
<rect x="210.74" y="309.1" width="3.2" height="12.6"/>
<rect x="215.83" y="309.1" width="3.2" height="12.6"/>
<rect x="220.93" y="309.1" width="3.2" height="12.6"/>
<rect x="226.02" y="309.1" width="3.2" height="12.6"/>
<rect x="231.11" y="309.1" width="3.2" height="12.6"/>
<rect x="236.2" y="309.1" width="3.2" height="12.6"/>
<rect x="241.3" y="309.1" width="3.2" height="12.6"/>
<rect x="246.39" y="309.1" width="3.2" height="12.6"/>
<rect x="251.48" y="309.1" width="3.2" height="12.6"/>
<rect x="256.58" y="309.1" width="3.2" height="12.6"/>
<rect x="261.67" y="309.1" width="3.2" height="12.6"/>
<rect x="266.76" y="309.1" width="3.2" height="12.6"/>
<rect x="271.86" y="309.1" width="3.2" height="12.6"/>
<rect x="276.95" y="309.1" width="3.2" height="12.6"/>
<rect x="282.04" y="309.1" width="3.2" height="12.6"/>
<rect x="287.13" y="309.1" width="3.2" height="12.6"/>
<rect x="292.23" y="309.1" width="3.2" height="12.6"/>
<rect x="297.32" y="309.1" width="3.2" height="12.6"/>
<rect x="302.41" y="309.1" width="3.2" height="12.6"/>
<rect x="307.51" y="309.1" width="3.2" height="12.6"/>
<rect x="312.6" y="309.1" width="3.2" height="12.6"/>
<rect x="317.69" y="309.1" width="3.2" height="12.6"/>
<rect x="322.78" y="309.1" width="3.2" height="12.6"/>
<rect x="327.88" y="309.1" width="3.2" height="12.6"/>
<rect x="332.97" y="309.1" width="3.2" height="12.6"/>
<rect x="338.06" y="309.1" width="3.2" height="12.6"/>
<rect x="343.16" y="309.1" width="3.2" height="12.6"/>
<rect x="348.25" y="309.1" width="3.2" height="12.6"/>
<rect x="353.34" y="309.1" width="3.2" height="12.6"/>
<rect x="358.44" y="309.1" width="3.2" height="12.6"/>
<rect x="363.53" y="309.1" width="3.2" height="12.6"/>
<rect x="368.62" y="309.1" width="3.2" height="12.6"/>
<rect x="373.72" y="309.1" width="3.2" height="12.6"/>
<rect x="378.81" y="309.1" width="3.2" height="12.6"/>
<rect x="383.9" y="309.1" width="3.2" height="12.6"/>
</g>
<rect x="93.4" y="313.15" width="3.6" height="4.5" fill="#000000"/>
<rect x="98.49" y="313.15" width="3.6" height="4.5" fill="#000000"/>
<rect x="118.86" y="313.15" width="3.6" height="4.5" fill="#000000"/>
<rect x="123.96" y="313.15" width="3.6" height="4.5" fill="#78c932"/>
<rect x="164.7" y="313.15" width="3.6" height="4.5" fill="#1a6b22"/>
<rect x="271.66" y="313.15" width="3.6" height="4.5" fill="#000000"/>
<rect x="442.98" y="309.1" width="28.72" height="12.6" fill="#80dbb6"/>
<rect x="471.7" y="309.1" width="3.97" height="12.6" fill="#fe9f9f"/>
<text x="15" y="337" font-size="7.95" class="b">EGFR</text>
<text x="74.4" y="336.6" font-size="6.8" class="b">10%</text>
<g fill="#bebebe">
<rect x="93.6" y="327.8" width="3.2" height="12.6"/>
<rect x="98.69" y="327.8" width="3.2" height="12.6"/>
<rect x="103.79" y="327.8" width="3.2" height="12.6"/>
<rect x="108.88" y="327.8" width="3.2" height="12.6"/>
<rect x="113.97" y="327.8" width="3.2" height="12.6"/>
<rect x="119.06" y="327.8" width="3.2" height="12.6"/>
<rect x="124.16" y="327.8" width="3.2" height="12.6"/>
<rect x="129.25" y="327.8" width="3.2" height="12.6"/>
<rect x="134.34" y="327.8" width="3.2" height="12.6"/>
<rect x="139.44" y="327.8" width="3.2" height="12.6"/>
<rect x="144.53" y="327.8" width="3.2" height="12.6"/>
<rect x="149.62" y="327.8" width="3.2" height="12.6"/>
<rect x="154.72" y="327.8" width="3.2" height="12.6"/>
<rect x="159.81" y="327.8" width="3.2" height="12.6"/>
<rect x="164.9" y="327.8" width="3.2" height="12.6"/>
<rect x="170" y="327.8" width="3.2" height="12.6"/>
<rect x="175.09" y="327.8" width="3.2" height="12.6"/>
<rect x="180.18" y="327.8" width="3.2" height="12.6"/>
<rect x="185.27" y="327.8" width="3.2" height="12.6"/>
<rect x="190.37" y="327.8" width="3.2" height="12.6"/>
<rect x="195.46" y="327.8" width="3.2" height="12.6"/>
<rect x="200.55" y="327.8" width="3.2" height="12.6"/>
<rect x="205.65" y="327.8" width="3.2" height="12.6"/>
<rect x="210.74" y="327.8" width="3.2" height="12.6"/>
<rect x="215.83" y="327.8" width="3.2" height="12.6"/>
<rect x="220.93" y="327.8" width="3.2" height="12.6"/>
<rect x="226.02" y="327.8" width="3.2" height="12.6"/>
<rect x="231.11" y="327.8" width="3.2" height="12.6"/>
<rect x="236.2" y="327.8" width="3.2" height="12.6"/>
<rect x="241.3" y="327.8" width="3.2" height="12.6"/>
<rect x="246.39" y="327.8" width="3.2" height="12.6"/>
<rect x="251.48" y="327.8" width="3.2" height="12.6"/>
<rect x="256.58" y="327.8" width="3.2" height="12.6"/>
<rect x="261.67" y="327.8" width="3.2" height="12.6"/>
<rect x="266.76" y="327.8" width="3.2" height="12.6"/>
<rect x="271.86" y="327.8" width="3.2" height="12.6"/>
<rect x="276.95" y="327.8" width="3.2" height="12.6"/>
<rect x="282.04" y="327.8" width="3.2" height="12.6"/>
<rect x="287.13" y="327.8" width="3.2" height="12.6"/>
<rect x="292.23" y="327.8" width="3.2" height="12.6"/>
<rect x="297.32" y="327.8" width="3.2" height="12.6"/>
<rect x="302.41" y="327.8" width="3.2" height="12.6"/>
<rect x="307.51" y="327.8" width="3.2" height="12.6"/>
<rect x="312.6" y="327.8" width="3.2" height="12.6"/>
<rect x="317.69" y="327.8" width="3.2" height="12.6"/>
<rect x="322.78" y="327.8" width="3.2" height="12.6"/>
<rect x="327.88" y="327.8" width="3.2" height="12.6"/>
<rect x="332.97" y="327.8" width="3.2" height="12.6"/>
<rect x="338.06" y="327.8" width="3.2" height="12.6"/>
<rect x="343.16" y="327.8" width="3.2" height="12.6"/>
<rect x="348.25" y="327.8" width="3.2" height="12.6"/>
<rect x="353.34" y="327.8" width="3.2" height="12.6"/>
<rect x="358.44" y="327.8" width="3.2" height="12.6"/>
<rect x="363.53" y="327.8" width="3.2" height="12.6"/>
<rect x="368.62" y="327.8" width="3.2" height="12.6"/>
<rect x="373.72" y="327.8" width="3.2" height="12.6"/>
<rect x="378.81" y="327.8" width="3.2" height="12.6"/>
<rect x="383.9" y="327.8" width="3.2" height="12.6"/>
</g>
<rect x="118.86" y="331.85" width="3.6" height="4.5" fill="#1a6b22"/>
<rect x="164.7" y="331.85" width="3.6" height="4.5" fill="#78c932"/>
<rect x="169.8" y="331.85" width="3.6" height="4.5" fill="#1a6b22"/>
<rect x="236" y="331.85" width="3.6" height="4.5" fill="#78c932"/>
<rect x="307.31" y="331.85" width="3.6" height="4.5" fill="#78c932"/>
<rect x="342.96" y="331.85" width="3.6" height="4.5" fill="#6c6c78"/>
<rect x="464.54" y="327.8" width="7.16" height="12.6" fill="#80dbb6"/>
<rect x="471.7" y="327.8" width="9.75" height="12.6" fill="#fe9f9f"/>
<text x="15" y="355.7" font-size="7.95" class="b">FAT1</text>
<text x="74.4" y="355.3" font-size="6.8" class="b">10%</text>
<g fill="#bebebe">
<rect x="93.6" y="346.5" width="3.2" height="12.6"/>
<rect x="98.69" y="346.5" width="3.2" height="12.6"/>
<rect x="103.79" y="346.5" width="3.2" height="12.6"/>
<rect x="108.88" y="346.5" width="3.2" height="12.6"/>
<rect x="113.97" y="346.5" width="3.2" height="12.6"/>
<rect x="119.06" y="346.5" width="3.2" height="12.6"/>
<rect x="124.16" y="346.5" width="3.2" height="12.6"/>
<rect x="129.25" y="346.5" width="3.2" height="12.6"/>
<rect x="134.34" y="346.5" width="3.2" height="12.6"/>
<rect x="139.44" y="346.5" width="3.2" height="12.6"/>
<rect x="144.53" y="346.5" width="3.2" height="12.6"/>
<rect x="149.62" y="346.5" width="3.2" height="12.6"/>
<rect x="154.72" y="346.5" width="3.2" height="12.6"/>
<rect x="159.81" y="346.5" width="3.2" height="12.6"/>
<rect x="164.9" y="346.5" width="3.2" height="12.6"/>
<rect x="170" y="346.5" width="3.2" height="12.6"/>
<rect x="175.09" y="346.5" width="3.2" height="12.6"/>
<rect x="180.18" y="346.5" width="3.2" height="12.6"/>
<rect x="185.27" y="346.5" width="3.2" height="12.6"/>
<rect x="190.37" y="346.5" width="3.2" height="12.6"/>
<rect x="195.46" y="346.5" width="3.2" height="12.6"/>
<rect x="200.55" y="346.5" width="3.2" height="12.6"/>
<rect x="205.65" y="346.5" width="3.2" height="12.6"/>
<rect x="210.74" y="346.5" width="3.2" height="12.6"/>
<rect x="215.83" y="346.5" width="3.2" height="12.6"/>
<rect x="220.93" y="346.5" width="3.2" height="12.6"/>
<rect x="226.02" y="346.5" width="3.2" height="12.6"/>
<rect x="231.11" y="346.5" width="3.2" height="12.6"/>
<rect x="236.2" y="346.5" width="3.2" height="12.6"/>
<rect x="241.3" y="346.5" width="3.2" height="12.6"/>
<rect x="246.39" y="346.5" width="3.2" height="12.6"/>
<rect x="251.48" y="346.5" width="3.2" height="12.6"/>
<rect x="256.58" y="346.5" width="3.2" height="12.6"/>
<rect x="261.67" y="346.5" width="3.2" height="12.6"/>
<rect x="266.76" y="346.5" width="3.2" height="12.6"/>
<rect x="271.86" y="346.5" width="3.2" height="12.6"/>
<rect x="276.95" y="346.5" width="3.2" height="12.6"/>
<rect x="282.04" y="346.5" width="3.2" height="12.6"/>
<rect x="287.13" y="346.5" width="3.2" height="12.6"/>
<rect x="292.23" y="346.5" width="3.2" height="12.6"/>
<rect x="297.32" y="346.5" width="3.2" height="12.6"/>
<rect x="302.41" y="346.5" width="3.2" height="12.6"/>
<rect x="307.51" y="346.5" width="3.2" height="12.6"/>
<rect x="312.6" y="346.5" width="3.2" height="12.6"/>
<rect x="317.69" y="346.5" width="3.2" height="12.6"/>
<rect x="322.78" y="346.5" width="3.2" height="12.6"/>
<rect x="327.88" y="346.5" width="3.2" height="12.6"/>
<rect x="332.97" y="346.5" width="3.2" height="12.6"/>
<rect x="338.06" y="346.5" width="3.2" height="12.6"/>
<rect x="343.16" y="346.5" width="3.2" height="12.6"/>
<rect x="348.25" y="346.5" width="3.2" height="12.6"/>
<rect x="353.34" y="346.5" width="3.2" height="12.6"/>
<rect x="358.44" y="346.5" width="3.2" height="12.6"/>
<rect x="363.53" y="346.5" width="3.2" height="12.6"/>
<rect x="368.62" y="346.5" width="3.2" height="12.6"/>
<rect x="373.72" y="346.5" width="3.2" height="12.6"/>
<rect x="378.81" y="346.5" width="3.2" height="12.6"/>
<rect x="383.9" y="346.5" width="3.2" height="12.6"/>
</g>
<rect x="93.4" y="350.55" width="3.6" height="4.5" fill="#78c932"/>
<rect x="118.86" y="350.55" width="3.6" height="4.5" fill="#78c932"/>
<rect x="154.52" y="350.55" width="3.6" height="4.5" fill="#000000"/>
<rect x="159.61" y="350.55" width="3.6" height="4.5" fill="#000000"/>
<rect x="236" y="350.55" width="3.6" height="4.5" fill="#78c932"/>
<rect x="317.49" y="350.55" width="3.6" height="4.5" fill="#78c932"/>
<rect x="457.3" y="346.5" width="14.4" height="12.6" fill="#80dbb6"/>
<rect x="471.7" y="346.5" width="7.93" height="12.6" fill="#fe9f9f"/>
<text x="15" y="374.4" font-size="7.95" class="b">IRS2</text>
<text x="74.4" y="374" font-size="6.8" class="b">10%</text>
<g fill="#bebebe">
<rect x="93.6" y="365.2" width="3.2" height="12.6"/>
<rect x="98.69" y="365.2" width="3.2" height="12.6"/>
<rect x="103.79" y="365.2" width="3.2" height="12.6"/>
<rect x="108.88" y="365.2" width="3.2" height="12.6"/>
<rect x="113.97" y="365.2" width="3.2" height="12.6"/>
<rect x="119.06" y="365.2" width="3.2" height="12.6"/>
<rect x="124.16" y="365.2" width="3.2" height="12.6"/>
<rect x="129.25" y="365.2" width="3.2" height="12.6"/>
<rect x="134.34" y="365.2" width="3.2" height="12.6"/>
<rect x="139.44" y="365.2" width="3.2" height="12.6"/>
<rect x="144.53" y="365.2" width="3.2" height="12.6"/>
<rect x="149.62" y="365.2" width="3.2" height="12.6"/>
<rect x="154.72" y="365.2" width="3.2" height="12.6"/>
<rect x="159.81" y="365.2" width="3.2" height="12.6"/>
<rect x="164.9" y="365.2" width="3.2" height="12.6"/>
<rect x="170" y="365.2" width="3.2" height="12.6"/>
<rect x="175.09" y="365.2" width="3.2" height="12.6"/>
<rect x="180.18" y="365.2" width="3.2" height="12.6"/>
<rect x="185.27" y="365.2" width="3.2" height="12.6"/>
<rect x="190.37" y="365.2" width="3.2" height="12.6"/>
<rect x="195.46" y="365.2" width="3.2" height="12.6"/>
<rect x="200.55" y="365.2" width="3.2" height="12.6"/>
<rect x="205.65" y="365.2" width="3.2" height="12.6"/>
<rect x="210.74" y="365.2" width="3.2" height="12.6"/>
<rect x="215.83" y="365.2" width="3.2" height="12.6"/>
<rect x="220.93" y="365.2" width="3.2" height="12.6"/>
<rect x="226.02" y="365.2" width="3.2" height="12.6"/>
<rect x="231.11" y="365.2" width="3.2" height="12.6"/>
<rect x="236.2" y="365.2" width="3.2" height="12.6"/>
<rect x="241.3" y="365.2" width="3.2" height="12.6"/>
<rect x="246.39" y="365.2" width="3.2" height="12.6"/>
<rect x="251.48" y="365.2" width="3.2" height="12.6"/>
<rect x="256.58" y="365.2" width="3.2" height="12.6"/>
<rect x="261.67" y="365.2" width="3.2" height="12.6"/>
<rect x="266.76" y="365.2" width="3.2" height="12.6"/>
<rect x="271.86" y="365.2" width="3.2" height="12.6"/>
<rect x="276.95" y="365.2" width="3.2" height="12.6"/>
<rect x="282.04" y="365.2" width="3.2" height="12.6"/>
<rect x="287.13" y="365.2" width="3.2" height="12.6"/>
<rect x="292.23" y="365.2" width="3.2" height="12.6"/>
<rect x="297.32" y="365.2" width="3.2" height="12.6"/>
<rect x="302.41" y="365.2" width="3.2" height="12.6"/>
<rect x="307.51" y="365.2" width="3.2" height="12.6"/>
<rect x="312.6" y="365.2" width="3.2" height="12.6"/>
<rect x="317.69" y="365.2" width="3.2" height="12.6"/>
<rect x="322.78" y="365.2" width="3.2" height="12.6"/>
<rect x="327.88" y="365.2" width="3.2" height="12.6"/>
<rect x="332.97" y="365.2" width="3.2" height="12.6"/>
<rect x="338.06" y="365.2" width="3.2" height="12.6"/>
<rect x="343.16" y="365.2" width="3.2" height="12.6"/>
<rect x="348.25" y="365.2" width="3.2" height="12.6"/>
<rect x="353.34" y="365.2" width="3.2" height="12.6"/>
<rect x="358.44" y="365.2" width="3.2" height="12.6"/>
<rect x="363.53" y="365.2" width="3.2" height="12.6"/>
<rect x="368.62" y="365.2" width="3.2" height="12.6"/>
<rect x="373.72" y="365.2" width="3.2" height="12.6"/>
<rect x="378.81" y="365.2" width="3.2" height="12.6"/>
<rect x="383.9" y="365.2" width="3.2" height="12.6"/>
</g>
<rect x="118.86" y="369.25" width="3.6" height="4.5" fill="#9a7a3a"/>
<rect x="154.52" y="369.25" width="3.6" height="4.5" fill="#9a7a3a"/>
<rect x="169.8" y="369.25" width="3.6" height="4.5" fill="#78c932"/>
<rect x="230.91" y="369.25" width="3.6" height="4.5" fill="#9a7a3a"/>
<rect x="241.1" y="369.25" width="3.6" height="4.5" fill="#9a7a3a"/>
<rect x="302.21" y="369.25" width="3.6" height="4.5" fill="#6c6c78"/>
<rect x="464.54" y="365.2" width="7.16" height="12.6" fill="#80dbb6"/>
<rect x="471.7" y="365.2" width="9.75" height="12.6" fill="#fe9f9f"/>
<text x="15" y="393.1" font-size="7.95" class="b">NOTCH2</text>
<text x="74.4" y="392.7" font-size="6.8" class="b">9%</text>
<g fill="#bebebe">
<rect x="93.6" y="383.9" width="3.2" height="12.6"/>
<rect x="98.69" y="383.9" width="3.2" height="12.6"/>
<rect x="103.79" y="383.9" width="3.2" height="12.6"/>
<rect x="108.88" y="383.9" width="3.2" height="12.6"/>
<rect x="113.97" y="383.9" width="3.2" height="12.6"/>
<rect x="119.06" y="383.9" width="3.2" height="12.6"/>
<rect x="124.16" y="383.9" width="3.2" height="12.6"/>
<rect x="129.25" y="383.9" width="3.2" height="12.6"/>
<rect x="134.34" y="383.9" width="3.2" height="12.6"/>
<rect x="139.44" y="383.9" width="3.2" height="12.6"/>
<rect x="144.53" y="383.9" width="3.2" height="12.6"/>
<rect x="149.62" y="383.9" width="3.2" height="12.6"/>
<rect x="154.72" y="383.9" width="3.2" height="12.6"/>
<rect x="159.81" y="383.9" width="3.2" height="12.6"/>
<rect x="164.9" y="383.9" width="3.2" height="12.6"/>
<rect x="170" y="383.9" width="3.2" height="12.6"/>
<rect x="175.09" y="383.9" width="3.2" height="12.6"/>
<rect x="180.18" y="383.9" width="3.2" height="12.6"/>
<rect x="185.27" y="383.9" width="3.2" height="12.6"/>
<rect x="190.37" y="383.9" width="3.2" height="12.6"/>
<rect x="195.46" y="383.9" width="3.2" height="12.6"/>
<rect x="200.55" y="383.9" width="3.2" height="12.6"/>
<rect x="205.65" y="383.9" width="3.2" height="12.6"/>
<rect x="210.74" y="383.9" width="3.2" height="12.6"/>
<rect x="215.83" y="383.9" width="3.2" height="12.6"/>
<rect x="220.93" y="383.9" width="3.2" height="12.6"/>
<rect x="226.02" y="383.9" width="3.2" height="12.6"/>
<rect x="231.11" y="383.9" width="3.2" height="12.6"/>
<rect x="236.2" y="383.9" width="3.2" height="12.6"/>
<rect x="241.3" y="383.9" width="3.2" height="12.6"/>
<rect x="246.39" y="383.9" width="3.2" height="12.6"/>
<rect x="251.48" y="383.9" width="3.2" height="12.6"/>
<rect x="256.58" y="383.9" width="3.2" height="12.6"/>
<rect x="261.67" y="383.9" width="3.2" height="12.6"/>
<rect x="266.76" y="383.9" width="3.2" height="12.6"/>
<rect x="271.86" y="383.9" width="3.2" height="12.6"/>
<rect x="276.95" y="383.9" width="3.2" height="12.6"/>
<rect x="282.04" y="383.9" width="3.2" height="12.6"/>
<rect x="287.13" y="383.9" width="3.2" height="12.6"/>
<rect x="292.23" y="383.9" width="3.2" height="12.6"/>
<rect x="297.32" y="383.9" width="3.2" height="12.6"/>
<rect x="302.41" y="383.9" width="3.2" height="12.6"/>
<rect x="307.51" y="383.9" width="3.2" height="12.6"/>
<rect x="312.6" y="383.9" width="3.2" height="12.6"/>
<rect x="317.69" y="383.9" width="3.2" height="12.6"/>
<rect x="322.78" y="383.9" width="3.2" height="12.6"/>
<rect x="327.88" y="383.9" width="3.2" height="12.6"/>
<rect x="332.97" y="383.9" width="3.2" height="12.6"/>
<rect x="338.06" y="383.9" width="3.2" height="12.6"/>
<rect x="343.16" y="383.9" width="3.2" height="12.6"/>
<rect x="348.25" y="383.9" width="3.2" height="12.6"/>
<rect x="353.34" y="383.9" width="3.2" height="12.6"/>
<rect x="358.44" y="383.9" width="3.2" height="12.6"/>
<rect x="363.53" y="383.9" width="3.2" height="12.6"/>
<rect x="368.62" y="383.9" width="3.2" height="12.6"/>
<rect x="373.72" y="383.9" width="3.2" height="12.6"/>
<rect x="378.81" y="383.9" width="3.2" height="12.6"/>
<rect x="383.9" y="383.9" width="3.2" height="12.6"/>
</g>
<rect x="98.49" y="387.95" width="3.6" height="4.5" fill="#78c932"/>
<rect x="103.59" y="387.95" width="3.6" height="4.5" fill="#78c932"/>
<rect x="134.14" y="387.95" width="3.6" height="4.5" fill="#78c932"/>
<rect x="195.26" y="387.95" width="3.6" height="4.5" fill="#78c932"/>
<rect x="353.14" y="387.95" width="3.6" height="4.5" fill="#78c932"/>
<rect x="450.14" y="383.9" width="21.56" height="12.6" fill="#80dbb6"/>
<rect x="471.7" y="383.9" width="3.97" height="12.6" fill="#fe9f9f"/>
<text x="15" y="411.8" font-size="7.95" class="b">NOTCH1</text>
<text x="74.4" y="411.4" font-size="6.8" class="b">10%</text>
<g fill="#bebebe">
<rect x="93.6" y="402.6" width="3.2" height="12.6"/>
<rect x="98.69" y="402.6" width="3.2" height="12.6"/>
<rect x="103.79" y="402.6" width="3.2" height="12.6"/>
<rect x="108.88" y="402.6" width="3.2" height="12.6"/>
<rect x="113.97" y="402.6" width="3.2" height="12.6"/>
<rect x="119.06" y="402.6" width="3.2" height="12.6"/>
<rect x="124.16" y="402.6" width="3.2" height="12.6"/>
<rect x="129.25" y="402.6" width="3.2" height="12.6"/>
<rect x="134.34" y="402.6" width="3.2" height="12.6"/>
<rect x="139.44" y="402.6" width="3.2" height="12.6"/>
<rect x="144.53" y="402.6" width="3.2" height="12.6"/>
<rect x="149.62" y="402.6" width="3.2" height="12.6"/>
<rect x="154.72" y="402.6" width="3.2" height="12.6"/>
<rect x="159.81" y="402.6" width="3.2" height="12.6"/>
<rect x="164.9" y="402.6" width="3.2" height="12.6"/>
<rect x="170" y="402.6" width="3.2" height="12.6"/>
<rect x="175.09" y="402.6" width="3.2" height="12.6"/>
<rect x="180.18" y="402.6" width="3.2" height="12.6"/>
<rect x="185.27" y="402.6" width="3.2" height="12.6"/>
<rect x="190.37" y="402.6" width="3.2" height="12.6"/>
<rect x="195.46" y="402.6" width="3.2" height="12.6"/>
<rect x="200.55" y="402.6" width="3.2" height="12.6"/>
<rect x="205.65" y="402.6" width="3.2" height="12.6"/>
<rect x="210.74" y="402.6" width="3.2" height="12.6"/>
<rect x="215.83" y="402.6" width="3.2" height="12.6"/>
<rect x="220.93" y="402.6" width="3.2" height="12.6"/>
<rect x="226.02" y="402.6" width="3.2" height="12.6"/>
<rect x="231.11" y="402.6" width="3.2" height="12.6"/>
<rect x="236.2" y="402.6" width="3.2" height="12.6"/>
<rect x="241.3" y="402.6" width="3.2" height="12.6"/>
<rect x="246.39" y="402.6" width="3.2" height="12.6"/>
<rect x="251.48" y="402.6" width="3.2" height="12.6"/>
<rect x="256.58" y="402.6" width="3.2" height="12.6"/>
<rect x="261.67" y="402.6" width="3.2" height="12.6"/>
<rect x="266.76" y="402.6" width="3.2" height="12.6"/>
<rect x="271.86" y="402.6" width="3.2" height="12.6"/>
<rect x="276.95" y="402.6" width="3.2" height="12.6"/>
<rect x="282.04" y="402.6" width="3.2" height="12.6"/>
<rect x="287.13" y="402.6" width="3.2" height="12.6"/>
<rect x="292.23" y="402.6" width="3.2" height="12.6"/>
<rect x="297.32" y="402.6" width="3.2" height="12.6"/>
<rect x="302.41" y="402.6" width="3.2" height="12.6"/>
<rect x="307.51" y="402.6" width="3.2" height="12.6"/>
<rect x="312.6" y="402.6" width="3.2" height="12.6"/>
<rect x="317.69" y="402.6" width="3.2" height="12.6"/>
<rect x="322.78" y="402.6" width="3.2" height="12.6"/>
<rect x="327.88" y="402.6" width="3.2" height="12.6"/>
<rect x="332.97" y="402.6" width="3.2" height="12.6"/>
<rect x="338.06" y="402.6" width="3.2" height="12.6"/>
<rect x="343.16" y="402.6" width="3.2" height="12.6"/>
<rect x="348.25" y="402.6" width="3.2" height="12.6"/>
<rect x="353.34" y="402.6" width="3.2" height="12.6"/>
<rect x="358.44" y="402.6" width="3.2" height="12.6"/>
<rect x="363.53" y="402.6" width="3.2" height="12.6"/>
<rect x="368.62" y="402.6" width="3.2" height="12.6"/>
<rect x="373.72" y="402.6" width="3.2" height="12.6"/>
<rect x="378.81" y="402.6" width="3.2" height="12.6"/>
<rect x="383.9" y="402.6" width="3.2" height="12.6"/>
</g>
<rect x="129.05" y="406.65" width="3.6" height="4.5" fill="#78c932"/>
<rect x="154.52" y="406.65" width="3.6" height="4.5" fill="#78c932"/>
<rect x="246.19" y="406.65" width="3.6" height="4.5" fill="#000000"/>
<rect x="256.38" y="406.65" width="3.6" height="4.5" fill="#78c932"/>
<rect x="276.75" y="406.65" width="3.6" height="4.5" fill="#000000"/>
<rect x="353.14" y="406.65" width="3.6" height="4.5" fill="#78c932"/>
<rect x="464.54" y="402.6" width="7.16" height="12.6" fill="#80dbb6"/>
<rect x="471.7" y="402.6" width="9.75" height="12.6" fill="#fe9f9f"/>
<text x="15" y="430.5" font-size="7.95" class="b">NOTCH3</text>
<text x="74.4" y="430.1" font-size="6.8" class="b">7%</text>
<g fill="#bebebe">
<rect x="93.6" y="421.3" width="3.2" height="12.6"/>
<rect x="98.69" y="421.3" width="3.2" height="12.6"/>
<rect x="103.79" y="421.3" width="3.2" height="12.6"/>
<rect x="108.88" y="421.3" width="3.2" height="12.6"/>
<rect x="113.97" y="421.3" width="3.2" height="12.6"/>
<rect x="119.06" y="421.3" width="3.2" height="12.6"/>
<rect x="124.16" y="421.3" width="3.2" height="12.6"/>
<rect x="129.25" y="421.3" width="3.2" height="12.6"/>
<rect x="134.34" y="421.3" width="3.2" height="12.6"/>
<rect x="139.44" y="421.3" width="3.2" height="12.6"/>
<rect x="144.53" y="421.3" width="3.2" height="12.6"/>
<rect x="149.62" y="421.3" width="3.2" height="12.6"/>
<rect x="154.72" y="421.3" width="3.2" height="12.6"/>
<rect x="159.81" y="421.3" width="3.2" height="12.6"/>
<rect x="164.9" y="421.3" width="3.2" height="12.6"/>
<rect x="170" y="421.3" width="3.2" height="12.6"/>
<rect x="175.09" y="421.3" width="3.2" height="12.6"/>
<rect x="180.18" y="421.3" width="3.2" height="12.6"/>
<rect x="185.27" y="421.3" width="3.2" height="12.6"/>
<rect x="190.37" y="421.3" width="3.2" height="12.6"/>
<rect x="195.46" y="421.3" width="3.2" height="12.6"/>
<rect x="200.55" y="421.3" width="3.2" height="12.6"/>
<rect x="205.65" y="421.3" width="3.2" height="12.6"/>
<rect x="210.74" y="421.3" width="3.2" height="12.6"/>
<rect x="215.83" y="421.3" width="3.2" height="12.6"/>
<rect x="220.93" y="421.3" width="3.2" height="12.6"/>
<rect x="226.02" y="421.3" width="3.2" height="12.6"/>
<rect x="231.11" y="421.3" width="3.2" height="12.6"/>
<rect x="236.2" y="421.3" width="3.2" height="12.6"/>
<rect x="241.3" y="421.3" width="3.2" height="12.6"/>
<rect x="246.39" y="421.3" width="3.2" height="12.6"/>
<rect x="251.48" y="421.3" width="3.2" height="12.6"/>
<rect x="256.58" y="421.3" width="3.2" height="12.6"/>
<rect x="261.67" y="421.3" width="3.2" height="12.6"/>
<rect x="266.76" y="421.3" width="3.2" height="12.6"/>
<rect x="271.86" y="421.3" width="3.2" height="12.6"/>
<rect x="276.95" y="421.3" width="3.2" height="12.6"/>
<rect x="282.04" y="421.3" width="3.2" height="12.6"/>
<rect x="287.13" y="421.3" width="3.2" height="12.6"/>
<rect x="292.23" y="421.3" width="3.2" height="12.6"/>
<rect x="297.32" y="421.3" width="3.2" height="12.6"/>
<rect x="302.41" y="421.3" width="3.2" height="12.6"/>
<rect x="307.51" y="421.3" width="3.2" height="12.6"/>
<rect x="312.6" y="421.3" width="3.2" height="12.6"/>
<rect x="317.69" y="421.3" width="3.2" height="12.6"/>
<rect x="322.78" y="421.3" width="3.2" height="12.6"/>
<rect x="327.88" y="421.3" width="3.2" height="12.6"/>
<rect x="332.97" y="421.3" width="3.2" height="12.6"/>
<rect x="338.06" y="421.3" width="3.2" height="12.6"/>
<rect x="343.16" y="421.3" width="3.2" height="12.6"/>
<rect x="348.25" y="421.3" width="3.2" height="12.6"/>
<rect x="353.34" y="421.3" width="3.2" height="12.6"/>
<rect x="358.44" y="421.3" width="3.2" height="12.6"/>
<rect x="363.53" y="421.3" width="3.2" height="12.6"/>
<rect x="368.62" y="421.3" width="3.2" height="12.6"/>
<rect x="373.72" y="421.3" width="3.2" height="12.6"/>
<rect x="378.81" y="421.3" width="3.2" height="12.6"/>
<rect x="383.9" y="421.3" width="3.2" height="12.6"/>
</g>
<rect x="108.68" y="425.35" width="3.6" height="4.5" fill="#78c932"/>
<rect x="113.77" y="425.35" width="3.6" height="4.5" fill="#78c932"/>
<rect x="134.14" y="425.35" width="3.6" height="4.5" fill="#78c932"/>
<rect x="154.52" y="425.35" width="3.6" height="4.5" fill="#78c932"/>
<rect x="450.14" y="421.3" width="21.56" height="12.6" fill="#80dbb6"/>
<text x="15" y="449.2" font-size="7.95" class="b">BRCA1</text>
<text x="74.4" y="448.8" font-size="6.8" class="b">7%</text>
<g fill="#bebebe">
<rect x="93.6" y="440" width="3.2" height="12.6"/>
<rect x="98.69" y="440" width="3.2" height="12.6"/>
<rect x="103.79" y="440" width="3.2" height="12.6"/>
<rect x="108.88" y="440" width="3.2" height="12.6"/>
<rect x="113.97" y="440" width="3.2" height="12.6"/>
<rect x="119.06" y="440" width="3.2" height="12.6"/>
<rect x="124.16" y="440" width="3.2" height="12.6"/>
<rect x="129.25" y="440" width="3.2" height="12.6"/>
<rect x="134.34" y="440" width="3.2" height="12.6"/>
<rect x="139.44" y="440" width="3.2" height="12.6"/>
<rect x="144.53" y="440" width="3.2" height="12.6"/>
<rect x="149.62" y="440" width="3.2" height="12.6"/>
<rect x="154.72" y="440" width="3.2" height="12.6"/>
<rect x="159.81" y="440" width="3.2" height="12.6"/>
<rect x="164.9" y="440" width="3.2" height="12.6"/>
<rect x="170" y="440" width="3.2" height="12.6"/>
<rect x="175.09" y="440" width="3.2" height="12.6"/>
<rect x="180.18" y="440" width="3.2" height="12.6"/>
<rect x="185.27" y="440" width="3.2" height="12.6"/>
<rect x="190.37" y="440" width="3.2" height="12.6"/>
<rect x="195.46" y="440" width="3.2" height="12.6"/>
<rect x="200.55" y="440" width="3.2" height="12.6"/>
<rect x="205.65" y="440" width="3.2" height="12.6"/>
<rect x="210.74" y="440" width="3.2" height="12.6"/>
<rect x="215.83" y="440" width="3.2" height="12.6"/>
<rect x="220.93" y="440" width="3.2" height="12.6"/>
<rect x="226.02" y="440" width="3.2" height="12.6"/>
<rect x="231.11" y="440" width="3.2" height="12.6"/>
<rect x="236.2" y="440" width="3.2" height="12.6"/>
<rect x="241.3" y="440" width="3.2" height="12.6"/>
<rect x="246.39" y="440" width="3.2" height="12.6"/>
<rect x="251.48" y="440" width="3.2" height="12.6"/>
<rect x="256.58" y="440" width="3.2" height="12.6"/>
<rect x="261.67" y="440" width="3.2" height="12.6"/>
<rect x="266.76" y="440" width="3.2" height="12.6"/>
<rect x="271.86" y="440" width="3.2" height="12.6"/>
<rect x="276.95" y="440" width="3.2" height="12.6"/>
<rect x="282.04" y="440" width="3.2" height="12.6"/>
<rect x="287.13" y="440" width="3.2" height="12.6"/>
<rect x="292.23" y="440" width="3.2" height="12.6"/>
<rect x="297.32" y="440" width="3.2" height="12.6"/>
<rect x="302.41" y="440" width="3.2" height="12.6"/>
<rect x="307.51" y="440" width="3.2" height="12.6"/>
<rect x="312.6" y="440" width="3.2" height="12.6"/>
<rect x="317.69" y="440" width="3.2" height="12.6"/>
<rect x="322.78" y="440" width="3.2" height="12.6"/>
<rect x="327.88" y="440" width="3.2" height="12.6"/>
<rect x="332.97" y="440" width="3.2" height="12.6"/>
<rect x="338.06" y="440" width="3.2" height="12.6"/>
<rect x="343.16" y="440" width="3.2" height="12.6"/>
<rect x="348.25" y="440" width="3.2" height="12.6"/>
<rect x="353.34" y="440" width="3.2" height="12.6"/>
<rect x="358.44" y="440" width="3.2" height="12.6"/>
<rect x="363.53" y="440" width="3.2" height="12.6"/>
<rect x="368.62" y="440" width="3.2" height="12.6"/>
<rect x="373.72" y="440" width="3.2" height="12.6"/>
<rect x="378.81" y="440" width="3.2" height="12.6"/>
<rect x="383.9" y="440" width="3.2" height="12.6"/>
</g>
<rect x="118.86" y="444.05" width="3.6" height="4.5" fill="#000000"/>
<rect x="154.52" y="444.05" width="3.6" height="4.5" fill="#78c932"/>
<rect x="271.66" y="444.05" width="3.6" height="4.5" fill="#78c932"/>
<rect x="383.7" y="444.05" width="3.6" height="4.5" fill="#78c932"/>
<rect x="464.54" y="440" width="7.16" height="12.6" fill="#80dbb6"/>
<rect x="471.7" y="440" width="3.97" height="12.6" fill="#fe9f9f"/>
<text x="15" y="467.9" font-size="7.95" class="b">FAM135B</text>
<text x="74.4" y="467.5" font-size="6.8" class="b">7%</text>
<g fill="#bebebe">
<rect x="93.6" y="458.7" width="3.2" height="12.6"/>
<rect x="98.69" y="458.7" width="3.2" height="12.6"/>
<rect x="103.79" y="458.7" width="3.2" height="12.6"/>
<rect x="108.88" y="458.7" width="3.2" height="12.6"/>
<rect x="113.97" y="458.7" width="3.2" height="12.6"/>
<rect x="119.06" y="458.7" width="3.2" height="12.6"/>
<rect x="124.16" y="458.7" width="3.2" height="12.6"/>
<rect x="129.25" y="458.7" width="3.2" height="12.6"/>
<rect x="134.34" y="458.7" width="3.2" height="12.6"/>
<rect x="139.44" y="458.7" width="3.2" height="12.6"/>
<rect x="144.53" y="458.7" width="3.2" height="12.6"/>
<rect x="149.62" y="458.7" width="3.2" height="12.6"/>
<rect x="154.72" y="458.7" width="3.2" height="12.6"/>
<rect x="159.81" y="458.7" width="3.2" height="12.6"/>
<rect x="164.9" y="458.7" width="3.2" height="12.6"/>
<rect x="170" y="458.7" width="3.2" height="12.6"/>
<rect x="175.09" y="458.7" width="3.2" height="12.6"/>
<rect x="180.18" y="458.7" width="3.2" height="12.6"/>
<rect x="185.27" y="458.7" width="3.2" height="12.6"/>
<rect x="190.37" y="458.7" width="3.2" height="12.6"/>
<rect x="195.46" y="458.7" width="3.2" height="12.6"/>
<rect x="200.55" y="458.7" width="3.2" height="12.6"/>
<rect x="205.65" y="458.7" width="3.2" height="12.6"/>
<rect x="210.74" y="458.7" width="3.2" height="12.6"/>
<rect x="215.83" y="458.7" width="3.2" height="12.6"/>
<rect x="220.93" y="458.7" width="3.2" height="12.6"/>
<rect x="226.02" y="458.7" width="3.2" height="12.6"/>
<rect x="231.11" y="458.7" width="3.2" height="12.6"/>
<rect x="236.2" y="458.7" width="3.2" height="12.6"/>
<rect x="241.3" y="458.7" width="3.2" height="12.6"/>
<rect x="246.39" y="458.7" width="3.2" height="12.6"/>
<rect x="251.48" y="458.7" width="3.2" height="12.6"/>
<rect x="256.58" y="458.7" width="3.2" height="12.6"/>
<rect x="261.67" y="458.7" width="3.2" height="12.6"/>
<rect x="266.76" y="458.7" width="3.2" height="12.6"/>
<rect x="271.86" y="458.7" width="3.2" height="12.6"/>
<rect x="276.95" y="458.7" width="3.2" height="12.6"/>
<rect x="282.04" y="458.7" width="3.2" height="12.6"/>
<rect x="287.13" y="458.7" width="3.2" height="12.6"/>
<rect x="292.23" y="458.7" width="3.2" height="12.6"/>
<rect x="297.32" y="458.7" width="3.2" height="12.6"/>
<rect x="302.41" y="458.7" width="3.2" height="12.6"/>
<rect x="307.51" y="458.7" width="3.2" height="12.6"/>
<rect x="312.6" y="458.7" width="3.2" height="12.6"/>
<rect x="317.69" y="458.7" width="3.2" height="12.6"/>
<rect x="322.78" y="458.7" width="3.2" height="12.6"/>
<rect x="327.88" y="458.7" width="3.2" height="12.6"/>
<rect x="332.97" y="458.7" width="3.2" height="12.6"/>
<rect x="338.06" y="458.7" width="3.2" height="12.6"/>
<rect x="343.16" y="458.7" width="3.2" height="12.6"/>
<rect x="348.25" y="458.7" width="3.2" height="12.6"/>
<rect x="353.34" y="458.7" width="3.2" height="12.6"/>
<rect x="358.44" y="458.7" width="3.2" height="12.6"/>
<rect x="363.53" y="458.7" width="3.2" height="12.6"/>
<rect x="368.62" y="458.7" width="3.2" height="12.6"/>
<rect x="373.72" y="458.7" width="3.2" height="12.6"/>
<rect x="378.81" y="458.7" width="3.2" height="12.6"/>
<rect x="383.9" y="458.7" width="3.2" height="12.6"/>
</g>
<rect x="103.59" y="462.75" width="3.6" height="4.5" fill="#78c932"/>
<rect x="251.28" y="462.75" width="3.6" height="4.5" fill="#78c932"/>
<rect x="256.38" y="462.75" width="3.6" height="4.5" fill="#6c6c78"/>
<rect x="266.56" y="462.75" width="3.6" height="4.5" fill="#78c932"/>
<rect x="464.54" y="458.7" width="7.16" height="12.6" fill="#80dbb6"/>
<rect x="471.7" y="458.7" width="5.87" height="12.6" fill="#fe9f9f"/>
<text x="15" y="486.6" font-size="7.95" class="b">RB1</text>
<text x="74.4" y="486.2" font-size="6.8" class="b">7%</text>
<g fill="#bebebe">
<rect x="93.6" y="477.4" width="3.2" height="12.6"/>
<rect x="98.69" y="477.4" width="3.2" height="12.6"/>
<rect x="103.79" y="477.4" width="3.2" height="12.6"/>
<rect x="108.88" y="477.4" width="3.2" height="12.6"/>
<rect x="113.97" y="477.4" width="3.2" height="12.6"/>
<rect x="119.06" y="477.4" width="3.2" height="12.6"/>
<rect x="124.16" y="477.4" width="3.2" height="12.6"/>
<rect x="129.25" y="477.4" width="3.2" height="12.6"/>
<rect x="134.34" y="477.4" width="3.2" height="12.6"/>
<rect x="139.44" y="477.4" width="3.2" height="12.6"/>
<rect x="144.53" y="477.4" width="3.2" height="12.6"/>
<rect x="149.62" y="477.4" width="3.2" height="12.6"/>
<rect x="154.72" y="477.4" width="3.2" height="12.6"/>
<rect x="159.81" y="477.4" width="3.2" height="12.6"/>
<rect x="164.9" y="477.4" width="3.2" height="12.6"/>
<rect x="170" y="477.4" width="3.2" height="12.6"/>
<rect x="175.09" y="477.4" width="3.2" height="12.6"/>
<rect x="180.18" y="477.4" width="3.2" height="12.6"/>
<rect x="185.27" y="477.4" width="3.2" height="12.6"/>
<rect x="190.37" y="477.4" width="3.2" height="12.6"/>
<rect x="195.46" y="477.4" width="3.2" height="12.6"/>
<rect x="200.55" y="477.4" width="3.2" height="12.6"/>
<rect x="205.65" y="477.4" width="3.2" height="12.6"/>
<rect x="210.74" y="477.4" width="3.2" height="12.6"/>
<rect x="215.83" y="477.4" width="3.2" height="12.6"/>
<rect x="220.93" y="477.4" width="3.2" height="12.6"/>
<rect x="226.02" y="477.4" width="3.2" height="12.6"/>
<rect x="231.11" y="477.4" width="3.2" height="12.6"/>
<rect x="236.2" y="477.4" width="3.2" height="12.6"/>
<rect x="241.3" y="477.4" width="3.2" height="12.6"/>
<rect x="246.39" y="477.4" width="3.2" height="12.6"/>
<rect x="251.48" y="477.4" width="3.2" height="12.6"/>
<rect x="256.58" y="477.4" width="3.2" height="12.6"/>
<rect x="261.67" y="477.4" width="3.2" height="12.6"/>
<rect x="266.76" y="477.4" width="3.2" height="12.6"/>
<rect x="271.86" y="477.4" width="3.2" height="12.6"/>
<rect x="276.95" y="477.4" width="3.2" height="12.6"/>
<rect x="282.04" y="477.4" width="3.2" height="12.6"/>
<rect x="287.13" y="477.4" width="3.2" height="12.6"/>
<rect x="292.23" y="477.4" width="3.2" height="12.6"/>
<rect x="297.32" y="477.4" width="3.2" height="12.6"/>
<rect x="302.41" y="477.4" width="3.2" height="12.6"/>
<rect x="307.51" y="477.4" width="3.2" height="12.6"/>
<rect x="312.6" y="477.4" width="3.2" height="12.6"/>
<rect x="317.69" y="477.4" width="3.2" height="12.6"/>
<rect x="322.78" y="477.4" width="3.2" height="12.6"/>
<rect x="327.88" y="477.4" width="3.2" height="12.6"/>
<rect x="332.97" y="477.4" width="3.2" height="12.6"/>
<rect x="338.06" y="477.4" width="3.2" height="12.6"/>
<rect x="343.16" y="477.4" width="3.2" height="12.6"/>
<rect x="348.25" y="477.4" width="3.2" height="12.6"/>
<rect x="353.34" y="477.4" width="3.2" height="12.6"/>
<rect x="358.44" y="477.4" width="3.2" height="12.6"/>
<rect x="363.53" y="477.4" width="3.2" height="12.6"/>
<rect x="368.62" y="477.4" width="3.2" height="12.6"/>
<rect x="373.72" y="477.4" width="3.2" height="12.6"/>
<rect x="378.81" y="477.4" width="3.2" height="12.6"/>
<rect x="383.9" y="477.4" width="3.2" height="12.6"/>
</g>
<rect x="154.52" y="481.45" width="3.6" height="4.5" fill="#000000"/>
<rect x="236" y="481.45" width="3.6" height="4.5" fill="#78c932"/>
<rect x="256.38" y="481.45" width="3.6" height="4.5" fill="#78c932"/>
<rect x="292.03" y="481.45" width="3.6" height="4.5" fill="#000000"/>
<rect x="471.7" y="477.4" width="7.93" height="12.6" fill="#fe9f9f"/>
<text x="15" y="505.3" font-size="7.95" class="b">KEAP1</text>
<text x="74.4" y="504.9" font-size="6.8" class="b">3%</text>
<g fill="#bebebe">
<rect x="93.6" y="496.1" width="3.2" height="12.6"/>
<rect x="98.69" y="496.1" width="3.2" height="12.6"/>
<rect x="103.79" y="496.1" width="3.2" height="12.6"/>
<rect x="108.88" y="496.1" width="3.2" height="12.6"/>
<rect x="113.97" y="496.1" width="3.2" height="12.6"/>
<rect x="119.06" y="496.1" width="3.2" height="12.6"/>
<rect x="124.16" y="496.1" width="3.2" height="12.6"/>
<rect x="129.25" y="496.1" width="3.2" height="12.6"/>
<rect x="134.34" y="496.1" width="3.2" height="12.6"/>
<rect x="139.44" y="496.1" width="3.2" height="12.6"/>
<rect x="144.53" y="496.1" width="3.2" height="12.6"/>
<rect x="149.62" y="496.1" width="3.2" height="12.6"/>
<rect x="154.72" y="496.1" width="3.2" height="12.6"/>
<rect x="159.81" y="496.1" width="3.2" height="12.6"/>
<rect x="164.9" y="496.1" width="3.2" height="12.6"/>
<rect x="170" y="496.1" width="3.2" height="12.6"/>
<rect x="175.09" y="496.1" width="3.2" height="12.6"/>
<rect x="180.18" y="496.1" width="3.2" height="12.6"/>
<rect x="185.27" y="496.1" width="3.2" height="12.6"/>
<rect x="190.37" y="496.1" width="3.2" height="12.6"/>
<rect x="195.46" y="496.1" width="3.2" height="12.6"/>
<rect x="200.55" y="496.1" width="3.2" height="12.6"/>
<rect x="205.65" y="496.1" width="3.2" height="12.6"/>
<rect x="210.74" y="496.1" width="3.2" height="12.6"/>
<rect x="215.83" y="496.1" width="3.2" height="12.6"/>
<rect x="220.93" y="496.1" width="3.2" height="12.6"/>
<rect x="226.02" y="496.1" width="3.2" height="12.6"/>
<rect x="231.11" y="496.1" width="3.2" height="12.6"/>
<rect x="236.2" y="496.1" width="3.2" height="12.6"/>
<rect x="241.3" y="496.1" width="3.2" height="12.6"/>
<rect x="246.39" y="496.1" width="3.2" height="12.6"/>
<rect x="251.48" y="496.1" width="3.2" height="12.6"/>
<rect x="256.58" y="496.1" width="3.2" height="12.6"/>
<rect x="261.67" y="496.1" width="3.2" height="12.6"/>
<rect x="266.76" y="496.1" width="3.2" height="12.6"/>
<rect x="271.86" y="496.1" width="3.2" height="12.6"/>
<rect x="276.95" y="496.1" width="3.2" height="12.6"/>
<rect x="282.04" y="496.1" width="3.2" height="12.6"/>
<rect x="287.13" y="496.1" width="3.2" height="12.6"/>
<rect x="292.23" y="496.1" width="3.2" height="12.6"/>
<rect x="297.32" y="496.1" width="3.2" height="12.6"/>
<rect x="302.41" y="496.1" width="3.2" height="12.6"/>
<rect x="307.51" y="496.1" width="3.2" height="12.6"/>
<rect x="312.6" y="496.1" width="3.2" height="12.6"/>
<rect x="317.69" y="496.1" width="3.2" height="12.6"/>
<rect x="322.78" y="496.1" width="3.2" height="12.6"/>
<rect x="327.88" y="496.1" width="3.2" height="12.6"/>
<rect x="332.97" y="496.1" width="3.2" height="12.6"/>
<rect x="338.06" y="496.1" width="3.2" height="12.6"/>
<rect x="343.16" y="496.1" width="3.2" height="12.6"/>
<rect x="348.25" y="496.1" width="3.2" height="12.6"/>
<rect x="353.34" y="496.1" width="3.2" height="12.6"/>
<rect x="358.44" y="496.1" width="3.2" height="12.6"/>
<rect x="363.53" y="496.1" width="3.2" height="12.6"/>
<rect x="368.62" y="496.1" width="3.2" height="12.6"/>
<rect x="373.72" y="496.1" width="3.2" height="12.6"/>
<rect x="378.81" y="496.1" width="3.2" height="12.6"/>
<rect x="383.9" y="496.1" width="3.2" height="12.6"/>
</g>
<rect x="179.98" y="500.15" width="3.6" height="4.5" fill="#78c932"/>
<rect x="251.28" y="500.15" width="3.6" height="4.5" fill="#000000"/>
<rect x="471.7" y="496.1" width="3.97" height="12.6" fill="#fe9f9f"/>
<g stroke="#000" stroke-width="1.6" fill="none">
<path d="M471.7 212.5V515.6"/>
<path d="M401.9 515.6H506.6"/>
<path d="M402.7 515.6V518.8"/>
<path d="M419.95 515.6V518.8"/>
<path d="M437.2 515.6V518.8"/>
<path d="M454.45 515.6V518.8"/>
<path d="M471.7 515.6V518.8"/>
<path d="M488.95 515.6V518.8"/>
<path d="M506.2 515.6V518.8"/>
</g>
<text x="402.7" y="528.4" font-size="7.5" class="b" text-anchor="middle">80</text>
<text x="419.95" y="528.4" font-size="7.5" class="b" text-anchor="middle">60</text>
<text x="437.2" y="528.4" font-size="7.5" class="b" text-anchor="middle">40</text>
<text x="454.45" y="528.4" font-size="7.5" class="b" text-anchor="middle">20</text>
<text x="471.7" y="528.4" font-size="7.5" class="b" text-anchor="middle">0</text>
<text x="488.95" y="528.4" font-size="7.5" class="b" text-anchor="middle">20</text>
<text x="506.2" y="528.4" font-size="7.5" class="b" text-anchor="middle">40</text>
<text x="375.2" y="538.6" font-size="8.55" class="b">% Mutational rate in <tspan style="fill:#3f6fca;stroke:#3f6fca">PR</tspan> &amp; (<tspan style="fill:#e23b2a;stroke:#e23b2a">SD</tspan>+<tspan style="fill:#f5a623;stroke:#f5a623">PD</tspan>)</text>
<rect x="41.05" y="515.6" width="2.3" height="8" fill="#bebebe"/>
<rect x="40.85" y="518.1" width="2.7" height="3" fill="#9a7a3a"/>
<text x="46.8" y="521.7" font-size="5.9">Inframe mutation (unknown significance)</text>
<rect x="162.85" y="515.6" width="2.3" height="8" fill="#bebebe"/>
<rect x="162.65" y="518.1" width="2.7" height="3" fill="#1a6b22"/>
<text x="168.8" y="521.7" font-size="5.9">Missense mutation (putative driver)</text>
<rect x="270.65" y="515.6" width="2.3" height="8" fill="#bebebe"/>
<rect x="270.45" y="518.1" width="2.7" height="3" fill="#78c932"/>
<text x="276.3" y="521.7" font-size="5.9">Missense mutation (unknown significance)</text>
<rect x="41.05" y="529.6" width="2.3" height="8" fill="#bebebe"/>
<rect x="40.85" y="532.1" width="2.7" height="3" fill="#000000"/>
<text x="46.8" y="535.7" font-size="5.9">Truncating mutation (putative driver)</text>
<rect x="162.85" y="529.6" width="2.3" height="8" fill="#bebebe"/>
<rect x="162.65" y="532.1" width="2.7" height="3" fill="#6c6c78"/>
<text x="168.8" y="535.7" font-size="5.9">Truncating mutation (unknown significance)</text>
<rect x="292.05" y="529.6" width="2.3" height="8" fill="#bebebe"/>
<text x="297.5" y="535.7" font-size="5.9">No alterations</text>
<text x="-0.2" y="565.9" font-size="15.6" class="b pl">B</text>
<g stroke="#a0abbb" stroke-width="1" stroke-dasharray="2.6 2.2" fill="none">
<path d="M42.5 571V690"/>
<path d="M33 677.5H156"/>
<path d="M42.5 677.5L152.09 574.74"/>
</g>
<g stroke="#000" stroke-width="1.3" fill="none">
<path d="M33.2 571.2V678.1"/>
<path d="M29.6 677.5H33.2"/>
<path d="M29.6 651.15H33.2"/>
<path d="M29.6 624.8H33.2"/>
<path d="M29.6 598.45H33.2"/>
<path d="M29.6 572.1H33.2"/>
<path d="M41.9 687.7H155.6"/>
<path d="M42.5 687.7V690.9"/>
<path d="M70.6 687.7V690.9"/>
<path d="M98.7 687.7V690.9"/>
<path d="M126.8 687.7V690.9"/>
<path d="M154.9 687.7V690.9"/>
</g>
<text x="28.4" y="679.85" font-size="6.6" class="b" text-anchor="end">0</text>
<text x="42.5" y="698.9" font-size="6.7" class="b" text-anchor="middle">0</text>
<text x="28.4" y="653.5" font-size="6.6" class="b" text-anchor="end">20</text>
<text x="70.6" y="698.9" font-size="6.7" class="b" text-anchor="middle">20</text>
<text x="28.4" y="627.15" font-size="6.6" class="b" text-anchor="end">40</text>
<text x="98.7" y="698.9" font-size="6.7" class="b" text-anchor="middle">40</text>
<text x="28.4" y="600.8" font-size="6.6" class="b" text-anchor="end">60</text>
<text x="126.8" y="698.9" font-size="6.7" class="b" text-anchor="middle">60</text>
<text x="28.4" y="574.45" font-size="6.6" class="b" text-anchor="end">80</text>
<text x="154.9" y="698.9" font-size="6.7" class="b" text-anchor="middle">80</text>
<g fill="#7f8289">
<circle cx="99.12" cy="578.69" r="1.95"/>
<circle cx="49.52" cy="633.63" r="1.95"/>
<circle cx="59.36" cy="633.63" r="1.95"/>
<circle cx="76.08" cy="644.56" r="1.95"/>
<circle cx="55.99" cy="655.5" r="1.95"/>
<circle cx="66.1" cy="655.5" r="1.95"/>
<circle cx="49.52" cy="666.56" r="1.95"/>
<circle cx="52.76" cy="666.56" r="1.95"/>
<circle cx="66.1" cy="666.56" r="1.95"/>
<circle cx="49.52" cy="677.5" r="1.95"/>
<circle cx="55.99" cy="677.5" r="1.95"/>
</g>
<circle cx="62.8" cy="611.4" r="3" fill="#f07f1e"/>
<g fill="#f0a04a"><circle cx="45.8" cy="644.6" r="1.1"/><circle cx="48.3" cy="644.6" r="1.1"/><circle cx="59.2" cy="666.2" r="1.6"/></g>
<g stroke="#f0a04a" stroke-width="0.6" fill="none"><path d="M45.6 629.5V643"/><path d="M44.6 631L45.6 629.3L46.6 631"/><path d="M44.6 641.5L45.6 643.2L46.6 641.5"/><path d="M50.5 640.5L48.8 643.5"/></g>
<text x="60" y="604.7" font-size="7.8" class="b" style="fill:#f07f1e;stroke:#f07f1e">NOTCH1/2/3</text>
<text x="43.7" y="627.1" font-size="6.9" class="b" style="fill:#f0903a;stroke:#f0903a">NOTCH3</text>
<text x="51.9" y="642.2" font-size="6.9" class="b" style="fill:#f0903a;stroke:#f0903a">NOTCH2</text>
<text x="57.3" y="675" font-size="6.9" class="b" style="fill:#f0903a;stroke:#f0903a">NOTCH1</text>
<text transform="translate(15.6 626) rotate(-90)" font-size="8.1" class="b" text-anchor="middle">% Mutational rate in <tspan style="fill:#5b62d6;stroke:#5b62d6">PR</tspan></text>
<text x="45.8" y="709.4" font-size="8.1" class="b">% Mutational rate in <tspan style="fill:#e23b2a;stroke:#e23b2a">SD</tspan>+<tspan style="fill:#f5a623;stroke:#f5a623">PD</tspan></text>
<text x="165.9" y="565.9" font-size="15.6" class="b pl">C</text>
<text x="201.4" y="576.8" font-size="7.3" class="b">3DMed cohort (anti–PD-1/PD-L1) - PFS</text>
<g stroke="#222" stroke-width="0.95" fill="none">
<path d="M199.75 585.6V690.45"/>
<path d="M199.3 690H334.5"/>
<path d="M197.75 690H199.75"/>
<path d="M197.75 665.25H199.75"/>
<path d="M197.75 640.5H199.75"/>
<path d="M197.75 615.75H199.75"/>
<path d="M197.75 591H199.75"/>
<path d="M199.75 690V692.4"/>
<path d="M244.5 690V692.4"/>
<path d="M289.25 690V692.4"/>
<path d="M334 690V692.4"/>
</g>
<text x="196.55" y="692.55" font-size="7.1" class="b" text-anchor="end">0</text>
<text x="196.55" y="667.8" font-size="7.1" class="b" text-anchor="end">25</text>
<text x="196.55" y="643.05" font-size="7.1" class="b" text-anchor="end">50</text>
<text x="196.55" y="618.3" font-size="7.1" class="b" text-anchor="end">75</text>
<text x="196.55" y="593.55" font-size="7.1" class="b" text-anchor="end">100</text>
<text x="199.75" y="700.7" font-size="7.3" class="b" text-anchor="middle">0</text>
<text x="244.5" y="700.7" font-size="7.3" class="b" text-anchor="middle">10</text>
<text x="289.25" y="700.7" font-size="7.3" class="b" text-anchor="middle">20</text>
<text x="334" y="700.7" font-size="7.3" class="b" text-anchor="middle">30</text>
<path d="M199.75 591H202.88V593.38H204.22V595.75H205.12V598.03H206.01V602.78H206.91V607.53H207.81V612.19H208.48V616.94H209.15V621.69H209.59V626.34H210.49V631.1H211.38V635.75H212.5V640.5H213.18V645.25H214.52V649.9H215.86V652.28H217.2V654.66H218.99V659.31H220.78V664.06H227.72V666.74H231.97V669.21H236.44V671.78H239.13V674.46H246.74V677.43H271.35V683.66H280.3" fill="none" stroke="#45b5ba" stroke-width="1.3" stroke-linejoin="miter"/>
<path d="M221.68 662.46v3.2M262.85 675.83v3.2M266.43 675.83v3.2M270.01 675.83v3.2M280.3 682.06v3.2" fill="none" stroke="#45b5ba" stroke-width="0.9"/>
<path d="M199.75 591H208.12V610.8H218.99V620.7H255.69V630.6H269.11V650.4H287.01V670.2H307.15V690" fill="none" stroke="#f07a22" stroke-width="1.55" stroke-linejoin="miter"/>
<path d="M257.48 629v3.2M261.95 629v3.2M267.32 629v3.2" fill="none" stroke="#f07a22" stroke-width="0.9"/>
<text transform="translate(179.6 640.6) rotate(-90)" font-size="7.4" class="b" text-anchor="middle">PFS %</text>
<text x="266.8" y="709.2" font-size="7.2" class="b" text-anchor="middle">Time (months)</text>
<text x="336.8" y="594.3" font-size="6.4" class="b" text-anchor="end">mPFS (mo)</text>
<path d="M248 602.6H256.5 M252.25 601.1v3" stroke="#f07a22" stroke-width="1" fill="none"/>
<text x="260.4" y="604.8" font-size="6.4" class="b">NOTCH1/2/3<tspan font-size="4.6" dy="-2.3">mut</tspan><tspan dy="2.3"> (10)</tspan></text>
<text x="336.8" y="604.8" font-size="6.4" class="b" text-anchor="end">15.47</text>
<path d="M248 613.2H256.5 M252.25 611.7v3" stroke="#45b5ba" stroke-width="1" fill="none"/>
<text x="260.4" y="615.3" font-size="6.4" class="b">NOTCH1/2/3<tspan font-size="4.6" dy="-2.3">WT</tspan><tspan dy="2.3"> (42)</tspan></text>
<text x="336.5" y="615.3" font-size="6.4" class="b" text-anchor="end">2.90</text>
<text x="261.2" y="627.1" font-size="6.33" class="b">HR 0.30 (95% CI, 0.12–0.78)</text>
<text x="281" y="637.2" font-size="6.35" class="b">Log-rank <tspan font-style="italic">P</tspan> = 0.009</text>
<text x="352.5" y="566" font-size="15.6" class="b pl">D</text>
<text x="386.1" y="576.8" font-size="7.12" class="b">3DMed cohort (anti–PD-1/PD-L1) - OS</text>
<g stroke="#222" stroke-width="0.95" fill="none">
<path d="M382.9 585.6V690.45"/>
<path d="M382.45 690H517.5"/>
<path d="M380.9 690H382.9"/>
<path d="M380.9 665.25H382.9"/>
<path d="M380.9 640.5H382.9"/>
<path d="M380.9 615.75H382.9"/>
<path d="M380.9 591H382.9"/>
<path d="M382.9 690V692.4"/>
<path d="M421.05 690V692.4"/>
<path d="M459.2 690V692.4"/>
<path d="M497.35 690V692.4"/>
</g>
<text x="379.7" y="692.55" font-size="7.1" class="b" text-anchor="end">0</text>
<text x="379.7" y="667.8" font-size="7.1" class="b" text-anchor="end">25</text>
<text x="379.7" y="643.05" font-size="7.1" class="b" text-anchor="end">50</text>
<text x="379.7" y="618.3" font-size="7.1" class="b" text-anchor="end">75</text>
<text x="379.7" y="593.55" font-size="7.1" class="b" text-anchor="end">100</text>
<text x="382.9" y="700.7" font-size="7.3" class="b" text-anchor="middle">0</text>
<text x="421.05" y="700.7" font-size="7.3" class="b" text-anchor="middle">10</text>
<text x="459.2" y="700.7" font-size="7.3" class="b" text-anchor="middle">20</text>
<text x="497.35" y="700.7" font-size="7.3" class="b" text-anchor="middle">30</text>
<path d="M382.9 591H389.19V593.38H389.77V595.75H390.53V598.03H392.06V600.11H394.73V602.38H397.4V604.86H399.69V607.24H402.74V609.51H406.55V611.89H408.84V614.36H411.51V616.74H413.42V619.12H416.47V621.49H419.14V624.07H421.81V626.84H424.1V629.41H426.01V633.17H430.97V636.04H435.55V638.92H438.6V641.79H440.51V644.66H442.41V647.53H444.32V650.4H446.23V652.97H464.16V671.49H488.96" fill="none" stroke="#45b5ba" stroke-width="1.3" stroke-linejoin="miter"/>
<path d="M428.3 634.44v3.2M429.44 634.44v3.2M439.74 643.06v3.2M441.27 645.93v3.2M443.18 648.8v3.2M449.28 651.37v3.2M452.33 651.37v3.2M455.38 651.37v3.2M459.2 651.37v3.2M461.87 651.37v3.2M488.96 669.89v3.2" fill="none" stroke="#45b5ba" stroke-width="0.9"/>
<path d="M382.9 591H418.76V600.9H453.48V618.72H492.01V653.37H493.15V654.56" fill="none" stroke="#f07a22" stroke-width="1.55" stroke-linejoin="miter"/>
<path d="M427.54 599.3v3.2M432.11 599.3v3.2M436.31 599.3v3.2M440.89 599.3v3.2M447.75 599.3v3.2M456.15 617.12v3.2M467.97 617.12v3.2M493.15 652.76v3.2" fill="none" stroke="#f07a22" stroke-width="0.9"/>
<text transform="translate(363 640.4) rotate(-90)" font-size="7.4" class="b" text-anchor="middle">OS</text>
<text x="449.3" y="709.2" font-size="7.2" class="b" text-anchor="middle">Time (months)</text>
<text x="485.8" y="650.6" font-size="6.4" class="b" text-anchor="end">mOS (mo)</text>
<path d="M388 658.8H396.6 M392.3 657.3v3" stroke="#f07a22" stroke-width="1" fill="none"/>
<text x="400.8" y="661.3" font-size="6.5" class="b">NOTCH1/2/3<tspan font-size="4.6" dy="-2.3">mut</tspan><tspan dy="2.3"> (10)</tspan></text>
<text x="485.4" y="661.7" font-size="6.4" class="b" text-anchor="end">28.50</text>
<path d="M388 668H396.6 M392.3 666.5v3" stroke="#45b5ba" stroke-width="1" fill="none"/>
<text x="400.8" y="670.2" font-size="6.5" class="b">NOTCH1/2/3<tspan font-size="4.6" dy="-2.3">WT</tspan><tspan dy="2.3"> (42)</tspan></text>
<text x="485.4" y="669.9" font-size="6.4" class="b" text-anchor="end">14.20</text>
<text x="388.2" y="679" font-size="6.3" class="b">HR 0.21 (95% CI, 0.05–0.91)</text>
<text x="388.2" y="687.7" font-size="6.35" class="b">Log-rank <tspan font-style="italic">P</tspan> = 0.020</text>
</svg>
</body></html>
